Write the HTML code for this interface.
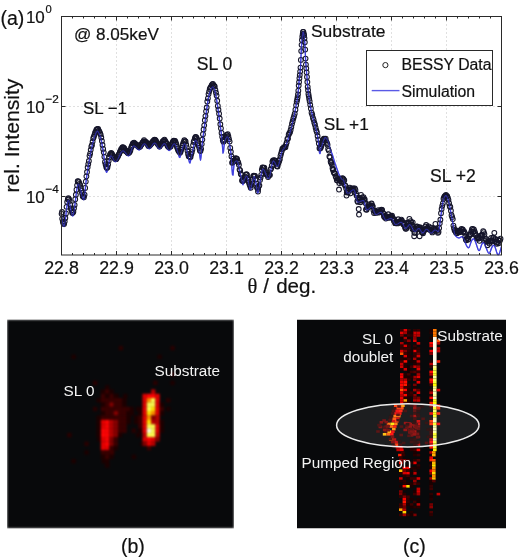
<!DOCTYPE html>
<html><head><meta charset="utf-8"><style>
html,body{margin:0;padding:0;background:#fff;}
body{width:520px;height:557px;overflow:hidden;}
svg{display:block;}
text{font-family:"Liberation Sans",Arial,Helvetica,sans-serif;}
.k text{stroke:#111;stroke-width:0.2px;}
</style></head><body>
<svg width="520" height="557" viewBox="0 0 520 557">
<rect width="520" height="557" fill="#fff"/>
<g stroke="#c0c0c0" stroke-width="1" stroke-dasharray="1 3" fill="none"><line x1="116.5" y1="16.5" x2="116.5" y2="255"/><line x1="171.5" y1="16.5" x2="171.5" y2="255"/><line x1="226.5" y1="16.5" x2="226.5" y2="255"/><line x1="281.5" y1="16.5" x2="281.5" y2="255"/><line x1="336.5" y1="16.5" x2="336.5" y2="255"/><line x1="391.5" y1="16.5" x2="391.5" y2="255"/><line x1="446.5" y1="16.5" x2="446.5" y2="255"/><line x1="61.5" y1="106.5" x2="501.5" y2="106.5"/><line x1="61.5" y1="196.5" x2="501.5" y2="196.5"/></g>
<path d="M61.5 215 L62 219 L62.5 222.27 L63 224.7 L63.5 226.16 L64 226.51 L64.5 225.21 L65 222.42 L65.5 218.61 L66 214.24 L66.5 209.77 L67 205.67 L67.5 202.42 L68 200.47 L68.5 200.22 L69 201.21 L69.5 203.03 L70 205.41 L70.5 208.06 L71 210.72 L71.5 213.1 L72 214.92 L72.5 215.91 L73 215.74 L73.5 214.23 L74 211.63 L74.5 208.19 L75 204.21 L75.5 199.95 L76 195.7 L76.5 191.71 L77 188.28 L77.5 185.67 L78 184.16 L78.5 183.97 L79 184.62 L79.5 185.85 L80 187.53 L80.5 189.5 L81 191.63 L81.5 193.78 L82 195.79 L82.5 197.54 L83 198.87 L83.5 199.65 L84 199.53 L84.5 196.92 L85 192.39 L85.5 187.03 L86 181.92 L86.5 178 L87 174.56 L87.5 171.28 L88 168.13 L88.5 165.07 L89 162.06 L89.5 159.11 L90 156.26 L90.5 153.54 L91 151 L91.5 148.6 L92 146.3 L92.5 144.13 L93 142.13 L93.5 140.32 L94 138.59 L94.5 136.97 L95 135.51 L95.5 134.27 L96 133.17 L96.5 132.09 L97 131.3 L97.5 131.09 L98 131.61 L98.5 132.56 L99 133.59 L99.5 134.57 L100 135.71 L100.5 137.1 L101 138.99 L101.5 141.4 L102 144.14 L102.5 147.04 L103 150.14 L103.5 153.63 L104 157.21 L104.5 160.7 L105 164.64 L105.5 168.39 L106 170.96 L106.5 172.32 L107 171.78 L107.5 169.93 L108 167.54 L108.5 164.87 L109 162.06 L109.5 159.41 L110 157.25 L110.5 155.94 L111 155.73 L111.5 156.08 L112 156.72 L112.5 157.57 L113 158.52 L113.5 159.5 L114 160.4 L114.5 161.13 L115 161.61 L115.5 161.74 L116 161.55 L116.5 161.13 L117 160.5 L117.5 159.7 L118 158.78 L118.5 157.77 L119 156.71 L119.5 155.63 L120 154.57 L120.5 153.57 L121 152.67 L121.5 151.91 L122 151.32 L122.5 150.94 L123 150.81 L123.5 150.93 L124 151.25 L124.5 151.73 L125 152.33 L125.5 152.99 L126 153.67 L126.5 154.33 L127 154.93 L127.5 155.41 L128 155.73 L128.5 155.85 L129 155.61 L129.5 154.93 L130 153.92 L130.5 152.67 L131 151.3 L131.5 149.89 L132 148.56 L132.5 147.4 L133 146.51 L133.5 145.99 L134 145.91 L134.5 146.09 L135 146.41 L135.5 146.85 L136 147.36 L136.5 147.92 L137 148.47 L137.5 148.99 L138 149.42 L138.5 149.75 L139 149.92 L139.5 149.88 L140 149.55 L140.5 148.98 L141 148.24 L141.5 147.39 L142 146.5 L142.5 145.64 L143 144.87 L143.5 144.26 L144 143.88 L144.5 143.78 L145 144 L145.5 144.45 L146 145.08 L146.5 145.83 L147 146.61 L147.5 147.36 L148 148.02 L148.5 148.52 L149 148.78 L149.5 148.76 L150 148.47 L150.5 147.96 L151 147.29 L151.5 146.53 L152 145.72 L152.5 144.92 L153 144.18 L153.5 143.57 L154 143.14 L154.5 142.95 L155 143.06 L155.5 143.5 L156 144.17 L156.5 145 L157 145.91 L157.5 146.82 L158 147.65 L158.5 148.32 L159 148.76 L159.5 148.87 L160 148.67 L160.5 148.22 L161 147.6 L161.5 146.87 L162 146.08 L162.5 145.31 L163 144.61 L163.5 144.05 L164 143.7 L164.5 143.61 L165 143.91 L165.5 144.56 L166 145.46 L166.5 146.51 L167 147.61 L167.5 148.66 L168 149.56 L168.5 150.21 L169 150.52 L169.5 150.42 L170 150.01 L170.5 149.36 L171 148.54 L171.5 147.62 L172 146.66 L172.5 145.73 L173 144.91 L173.5 144.27 L174 143.86 L174.5 143.76 L175 144.17 L175.5 145.08 L176 146.35 L176.5 147.88 L177 149.54 L177.5 151.21 L178 152.8 L178.5 154.32 L179 156.03 L179.5 157.49 L180 157.27 L180.5 155.54 L181 153.71 L181.5 151.99 L182 150.18 L182.5 148.34 L183 146.6 L183.5 145.13 L184 144.08 L184.5 143.59 L185 143.87 L185.5 144.94 L186 146.63 L186.5 148.77 L187 151.15 L187.5 153.61 L188 155.98 L188.5 158.2 L189 160.52 L189.5 162.7 L190 162.97 L190.5 161.08 L191 158.82 L191.5 156.72 L192 154.45 L192.5 151.98 L193 149.42 L193.5 146.92 L194 144.62 L194.5 142.67 L195 141.19 L195.5 140.35 L196 140.27 L196.5 141.04 L197 142.47 L197.5 144.37 L198 146.53 L198.5 148.76 L199 150.94 L199.5 153.47 L200 157.18 L200.5 160.11 L201 157.12 L201.5 150.89 L202 146.04 L202.5 141.75 L203 137.55 L203.5 133.64 L204 129.87 L204.5 126.12 L205 122.38 L205.5 118.57 L206 114.7 L206.5 110.92 L207 107.38 L207.5 103.82 L208 100.37 L208.5 97.36 L209 95.11 L209.5 93.35 L210 91.84 L210.5 90.55 L211 89.47 L211.5 88.51 L212 87.59 L212.5 86.94 L213 86.85 L213.5 87.39 L214 88.34 L214.5 89.47 L215 91.23 L215.5 93.63 L216 96.38 L216.5 99.17 L217 102.19 L217.5 105.5 L218 108.98 L218.5 112.5 L219 116.13 L219.5 119.91 L220 123.71 L220.5 127.4 L221 131.14 L221.5 135.21 L222 140.37 L222.5 147.3 L223 153.14 L223.5 151.65 L224 146.56 L224.5 142.86 L225 140.95 L225.5 139.63 L226 138.47 L226.5 137.5 L227 136.86 L227.5 136.7 L228 137.39 L228.5 138.94 L229 141.18 L229.5 143.91 L230 146.95 L230.5 150.12 L231 153.77 L231.5 160.54 L232 168.89 L232.5 174.64 L233 175.11 L233.5 169.89 L234 164.92 L234.5 162.74 L235 161.94 L235.5 161.47 L236 161.11 L236.5 160.9 L237 160.92 L237.5 161.61 L238 162.96 L238.5 164.82 L239 167.05 L239.5 169.52 L240 172.08 L240.5 174.61 L241 176.96 L241.5 179.12 L242 181.39 L242.5 183.85 L243 184.71 L243.5 183.09 L244 181.05 L244.5 179.63 L245 178.45 L245.5 177.39 L246 176.54 L246.5 176.07 L247 176.28 L247.5 177.63 L248 179.78 L248.5 182.34 L249 185.02 L249.5 187.77 L250 189.86 L250.5 189.66 L251 187.74 L251.5 185.62 L252 183.6 L252.5 181.56 L253 179.62 L253.5 178.01 L254 176.95 L254.5 176.69 L255 177.92 L255.5 180.43 L256 183.63 L256.5 187.06 L257 190.47 L257.5 192.95 L258 192.76 L258.5 190.6 L259 188.02 L259.5 185.31 L260 182.33 L260.5 179.22 L261 176.16 L261.5 173.4 L262 171.15 L262.5 169.64 L263 169.08 L263.5 169.29 L264 169.87 L264.5 170.74 L265 171.83 L265.5 173.04 L266 174.31 L266.5 175.54 L267 176.65 L267.5 177.57 L268 178.22 L268.5 178.51 L269 178.15 L269.5 176.83 L270 174.78 L270.5 172.26 L271 169.5 L271.5 166.78 L272 164.32 L272.5 162.4 L273 161.25 L273.5 161.08 L274 161.42 L274.5 162.05 L275 162.88 L275.5 163.8 L276 164.71 L276.5 165.51 L277 166.09 L277.5 166.36 L278 166.1 L278.5 165.13 L279 163.6 L279.5 161.67 L280 159.48 L280.5 157.2 L281 154.98 L281.5 152.98 L282 151.35 L282.5 150.25 L283 149.59 L283.5 149.08 L284 148.6 L284.5 147.99 L285 147.2 L285.5 146.27 L286 145.22 L286.5 144.04 L287 142.62 L287.5 141.03 L288 139.35 L288.5 137.68 L289 136.06 L289.5 134.45 L290 132.79 L290.5 131.04 L291 129.15 L291.5 127.08 L292 124.89 L292.5 122.66 L293 120.46 L293.5 118.38 L294 116.34 L294.5 114.2 L295 111.87 L295.5 109.16 L296 106.18 L296.5 103.2 L297 100.58 L297.5 97.95 L298 94.5 L298.5 88.47 L299 82.37 L299.5 77.05 L300 72.95 L300.5 67.4 L301 56 L301.5 46 L302 39.75 L302.5 35.34 L303 31.92 L303.5 32.16 L304 35.13 L304.5 38.78 L305 45.53 L305.5 57.88 L306 65.48 L306.5 71.25 L307 77.49 L307.5 84.07 L308 90.2 L308.5 94.13 L309 97.27 L309.5 100.3 L310 103.56 L310.5 106.7 L311 109.39 L311.5 111.67 L312 113.71 L312.5 115.65 L313 117.63 L313.5 119.65 L314 121.65 L314.5 123.64 L315 125.64 L315.5 127.62 L316 129.51 L316.5 131.42 L317 133.49 L317.5 135.88 L318 138.87 L318.5 142.38 L319 147.36 L319.5 152.89 L320 153.55 L320.5 151.09 L321 148.66 L321.5 146.98 L322 145.46 L322.5 143.83 L323 142.11 L323.5 140.46 L324 139.05 L324.5 138.02 L325 137.52 L325.5 137.52 L326 137.95 L326.5 138.63 L327 139.39 L327.5 140.19 L328 140.99 L328.5 142.36 L329 144.36 L329.5 146.57 L330 148.57 L330.5 150.1 L331 151.34 L331.5 152.52 L332 153.74 L332.5 155.09 L333 156.65 L333.5 158.34 L334 160.06 L334.5 161.76 L335 163.36 L335.5 164.83 L336 166.22 L336.5 167.59 L337 168.96 L337.5 170.31 L338 171.72 L338.5 173.18 L339 174.44 L339.5 175.32 L340 176.25 L340.5 177.24 L341 178.18 L341.5 178.93 L342 179.37 L342.5 179.63 L343 179.93 L343.5 180.38 L344 181.57 L344.5 183.42 L345 185.64 L345.5 187.98 L346 190.15 L346.5 191.91 L347 193.01 L347.5 193.27 L348 193.23 L348.5 193.07 L349 192.82 L349.5 192.48 L350 192.08 L350.5 191.64 L351 191.21 L351.5 190.79 L352 190.41 L352.5 190.1 L353 189.86 L353.5 189.72 L354 189.78 L354.5 190.65 L355 192.24 L355.5 194.29 L356 196.52 L356.5 198.68 L357 200.48 L357.5 201.67 L358 202 L358.5 201.95 L359 201.85 L359.5 201.7 L360 201.53 L360.5 201.33 L361 201.13 L361.5 200.94 L362 200.77 L362.5 200.63 L363 200.53 L363.5 200.5 L364 201.09 L364.5 202.59 L365 204.6 L365.5 206.74 L366 208.6 L366.5 209.78 L367 209.99 L367.5 209.84 L368 209.57 L368.5 209.2 L369 208.77 L369.5 208.31 L370 207.87 L370.5 207.47 L371 207.16 L371.5 206.95 L372 206.91 L372.5 207.38 L373 208.37 L373.5 209.69 L374 211.14 L374.5 212.53 L375 213.67 L375.5 214.37 L376 214.49 L376.5 214.4 L377 214.22 L377.5 213.98 L378 213.7 L378.5 213.4 L379 213.1 L379.5 212.82 L380 212.58 L380.5 212.4 L381 212.31 L381.5 212.39 L382 212.92 L382.5 213.8 L383 214.91 L383.5 216.15 L384 217.39 L384.5 218.5 L385 219.38 L385.5 219.91 L386 219.99 L386.5 219.93 L387 219.8 L387.5 219.62 L388 219.42 L388.5 219.2 L389 218.98 L389.5 218.78 L390 218.6 L390.5 218.47 L391 218.41 L391.5 218.48 L392 218.9 L392.5 219.61 L393 220.51 L393.5 221.5 L394 222.49 L394.5 223.39 L395 224.1 L395.5 224.52 L396 224.59 L396.5 224.49 L397 224.31 L397.5 224.06 L398 223.77 L398.5 223.45 L399 223.13 L399.5 222.84 L400 222.59 L400.5 222.41 L401 222.31 L401.5 222.37 L402 222.79 L402.5 223.49 L403 224.37 L403.5 225.35 L404 226.33 L404.5 227.21 L405 227.91 L405.5 228.33 L406 228.37 L406.5 228.06 L407 227.5 L407.5 226.8 L408 226.05 L408.5 225.37 L409 224.85 L409.5 224.61 L410 224.71 L410.5 225.11 L411 225.75 L411.5 226.56 L412 227.48 L412.5 228.43 L413 229.36 L413.5 230.2 L414 230.88 L414.5 231.33 L415 231.5 L415.5 231.35 L416 230.97 L416.5 230.43 L417 229.83 L417.5 229.24 L418 228.75 L418.5 228.45 L419 228.44 L419.5 228.79 L420 229.44 L420.5 230.26 L421 231.14 L421.5 231.96 L422 232.61 L422.5 232.96 L423 232.93 L423.5 232.57 L424 231.97 L424.5 231.25 L425 230.51 L425.5 229.85 L426 229.38 L426.5 229.2 L427 229.32 L427.5 229.64 L428 230.11 L428.5 230.68 L429 231.28 L429.5 231.87 L430 232.38 L430.5 232.77 L431 232.98 L431.5 232.95 L432 232.66 L432.5 232.19 L433 231.62 L433.5 231.03 L434 230.51 L434.5 230.14 L435 230 L435.5 230.08 L436 230.28 L436.5 230.56 L437 230.87 L437.5 231.17 L438 231.39 L438.5 231.5 L439 230.09 L439.5 226.26 L440 222.77 L440.5 219.17 L441 215.43 L441.5 211.35 L442 207.46 L442.5 204.4 L443 201.68 L443.5 199.64 L444 198.3 L444.5 197.11 L445 196.17 L445.5 195.61 L446 195.54 L446.5 196.01 L447 196.85 L447.5 197.92 L448 199.13 L448.5 200.88 L449 203.04 L449.5 205.31 L450 207.81 L450.5 210.52 L451 213.22 L451.5 215.89 L452 218.57 L452.5 221.27 L453 224.19 L453.5 227.49 L454 230.7 L454.5 233.33 L455 234.89 L455.5 235.68 L456 236.27 L456.5 236.72 L457 237.11 L457.5 237.43 L458 237.69 L458.5 237.88 L459 237.94 L459.5 237.81 L460 237.58 L460.5 237.29 L461 237 L461.5 236.78 L462 236.69 L462.5 236.8 L463 237.32 L463.5 238.19 L464 239.31 L464.5 240.59 L465 241.93 L465.5 243.24 L466 244.46 L466.5 245.55 L467 246.46 L467.5 247.13 L468 247.63 L468.5 247.78 L469 247.42 L469.5 246.49 L470 245.13 L470.5 243.61 L471 242.17 L471.5 240.97 L472 240.05 L472.5 239.39 L473 238.98 L473.5 238.82 L474 239.01 L474.5 239.66 L475 240.66 L475.5 241.92 L476 243.33 L476.5 244.82 L477 246.34 L477.5 247.84 L478 249.19 L478.5 250.18 L479 250.6 L479.5 250.38 L480 249.5 L480.5 248.12 L481 246.55 L481.5 245.08 L482 243.89 L482.5 243.05 L483 242.6 L483.5 242.55 L484 242.96 L484.5 243.76 L485 244.82 L485.5 246.05 L486 247.36 L486.5 248.7 L487 250 L487.5 251.23 L488 252.29 L488.5 253 L489 253.32 L489.5 253.09 L490 252.27 L490.5 251 L491 249.55 L491.5 248.18 L492 247.05 L492.5 246.2 L493 245.63 L493.5 245.32 L494 245.32 L494.5 245.92 L495 247 L495.5 248.41 L496 250.01 L496.5 251.65 L497 253.15 L497.5 254.2 L498 254.71 L498.5 254.72 L499 254.12 L499.5 252.98 L500 251.5 L500.5 249.87 L501 248.18 L501.5 246.39" fill="none" stroke="#4646e0" stroke-width="1.3" stroke-linejoin="round"/>
<g fill="none" stroke="#15152a" stroke-width="1.05"><circle cx="61.6" cy="213.85" r="2.4"/><circle cx="62.22" cy="218.7" r="2.4"/><circle cx="62.84" cy="221.84" r="2.4"/><circle cx="63.46" cy="223.52" r="2.4"/><circle cx="64.08" cy="224.1" r="2.4"/><circle cx="64.7" cy="221.61" r="2.4"/><circle cx="65.32" cy="218.04" r="2.4"/><circle cx="65.94" cy="213.48" r="2.4"/><circle cx="66.56" cy="206.87" r="2.4"/><circle cx="67.18" cy="201.92" r="2.4"/><circle cx="67.8" cy="199.23" r="2.4"/><circle cx="68.42" cy="198.24" r="2.4"/><circle cx="69.04" cy="199.25" r="2.4"/><circle cx="69.66" cy="201.06" r="2.4"/><circle cx="70.28" cy="204.7" r="2.4"/><circle cx="70.9" cy="208.43" r="2.4"/><circle cx="71.52" cy="210.24" r="2.4"/><circle cx="72.14" cy="212.84" r="2.4"/><circle cx="72.76" cy="212.71" r="2.4"/><circle cx="73.38" cy="211.76" r="2.4"/><circle cx="74" cy="208.37" r="2.4"/><circle cx="74.62" cy="204.91" r="2.4"/><circle cx="75.24" cy="199.23" r="2.4"/><circle cx="75.86" cy="194.76" r="2.4"/><circle cx="76.48" cy="189.68" r="2.4"/><circle cx="77.1" cy="185.3" r="2.4"/><circle cx="77.72" cy="181.18" r="2.4"/><circle cx="78.34" cy="181.31" r="2.4"/><circle cx="78.96" cy="182.2" r="2.4"/><circle cx="79.58" cy="183.83" r="2.4"/><circle cx="80.2" cy="185.12" r="2.4"/><circle cx="80.82" cy="188.25" r="2.4"/><circle cx="81.44" cy="190.64" r="2.4"/><circle cx="82.06" cy="193.22" r="2.4"/><circle cx="82.68" cy="196.27" r="2.4"/><circle cx="83.3" cy="196.6" r="2.4"/><circle cx="83.92" cy="197.29" r="2.4"/><circle cx="84.54" cy="194.68" r="2.4"/><circle cx="85.16" cy="187.99" r="2.4"/><circle cx="85.78" cy="181.58" r="2.4"/><circle cx="86.4" cy="176.34" r="2.4"/><circle cx="87.02" cy="172.02" r="2.4"/><circle cx="87.64" cy="167.3" r="2.4"/><circle cx="88.26" cy="164.11" r="2.4"/><circle cx="88.88" cy="161.02" r="2.4"/><circle cx="89.5" cy="155.84" r="2.4"/><circle cx="90.12" cy="153.55" r="2.4"/><circle cx="90.74" cy="149.86" r="2.4"/><circle cx="91.36" cy="146.43" r="2.4"/><circle cx="91.98" cy="144.89" r="2.4"/><circle cx="92.6" cy="141.59" r="2.4"/><circle cx="93.22" cy="138.18" r="2.4"/><circle cx="93.84" cy="136.64" r="2.4"/><circle cx="94.46" cy="134.84" r="2.4"/><circle cx="95.08" cy="132.65" r="2.4"/><circle cx="95.7" cy="131.62" r="2.4"/><circle cx="96.32" cy="129.86" r="2.4"/><circle cx="96.94" cy="129.11" r="2.4"/><circle cx="97.56" cy="129.19" r="2.4"/><circle cx="98.18" cy="129.04" r="2.4"/><circle cx="98.8" cy="130.69" r="2.4"/><circle cx="99.42" cy="131.62" r="2.4"/><circle cx="100.04" cy="133.26" r="2.4"/><circle cx="100.66" cy="134.56" r="2.4"/><circle cx="101.28" cy="137.44" r="2.4"/><circle cx="101.9" cy="140.88" r="2.4"/><circle cx="102.52" cy="144.9" r="2.4"/><circle cx="103.14" cy="148.92" r="2.4"/><circle cx="103.76" cy="152.33" r="2.4"/><circle cx="104.38" cy="156.82" r="2.4"/><circle cx="105" cy="161.89" r="2.4"/><circle cx="105.62" cy="164.41" r="2.4"/><circle cx="106.24" cy="166.99" r="2.4"/><circle cx="106.86" cy="167.95" r="2.4"/><circle cx="107.48" cy="167.36" r="2.4"/><circle cx="108.1" cy="164.56" r="2.4"/><circle cx="108.72" cy="160.82" r="2.4"/><circle cx="109.34" cy="157.39" r="2.4"/><circle cx="109.96" cy="154.6" r="2.4"/><circle cx="110.58" cy="153.75" r="2.4"/><circle cx="111.2" cy="152.95" r="2.4"/><circle cx="111.82" cy="153.63" r="2.4"/><circle cx="112.44" cy="154.89" r="2.4"/><circle cx="113.06" cy="155.87" r="2.4"/><circle cx="113.68" cy="157.03" r="2.4"/><circle cx="114.3" cy="157.68" r="2.4"/><circle cx="114.92" cy="158.81" r="2.4"/><circle cx="115.54" cy="158.81" r="2.4"/><circle cx="116.16" cy="159.17" r="2.4"/><circle cx="116.78" cy="158.31" r="2.4"/><circle cx="117.4" cy="157.11" r="2.4"/><circle cx="118.02" cy="156.26" r="2.4"/><circle cx="118.64" cy="154.57" r="2.4"/><circle cx="119.26" cy="153.81" r="2.4"/><circle cx="119.88" cy="152.04" r="2.4"/><circle cx="120.5" cy="151.03" r="2.4"/><circle cx="121.12" cy="149.15" r="2.4"/><circle cx="121.74" cy="148.95" r="2.4"/><circle cx="122.36" cy="147.52" r="2.4"/><circle cx="122.98" cy="147.15" r="2.4"/><circle cx="123.6" cy="148.04" r="2.4"/><circle cx="124.22" cy="148.25" r="2.4"/><circle cx="124.84" cy="149.37" r="2.4"/><circle cx="125.46" cy="151.05" r="2.4"/><circle cx="126.08" cy="150.6" r="2.4"/><circle cx="126.7" cy="151.48" r="2.4"/><circle cx="127.32" cy="152.49" r="2.4"/><circle cx="127.94" cy="153.06" r="2.4"/><circle cx="128.56" cy="152.92" r="2.4"/><circle cx="129.18" cy="152.46" r="2.4"/><circle cx="129.8" cy="151.79" r="2.4"/><circle cx="130.42" cy="150.23" r="2.4"/><circle cx="131.04" cy="147.87" r="2.4"/><circle cx="131.66" cy="146.54" r="2.4"/><circle cx="132.28" cy="145.01" r="2.4"/><circle cx="132.9" cy="143.32" r="2.4"/><circle cx="133.52" cy="143.19" r="2.4"/><circle cx="134.14" cy="142.68" r="2.4"/><circle cx="134.76" cy="143.75" r="2.4"/><circle cx="135.38" cy="143.91" r="2.4"/><circle cx="136" cy="144.49" r="2.4"/><circle cx="136.62" cy="144.88" r="2.4"/><circle cx="137.24" cy="145.75" r="2.4"/><circle cx="137.86" cy="145.53" r="2.4"/><circle cx="138.48" cy="146.32" r="2.4"/><circle cx="139.1" cy="147.15" r="2.4"/><circle cx="139.72" cy="145.91" r="2.4"/><circle cx="140.34" cy="146.6" r="2.4"/><circle cx="140.96" cy="144.6" r="2.4"/><circle cx="141.58" cy="144.62" r="2.4"/><circle cx="142.2" cy="142.82" r="2.4"/><circle cx="142.82" cy="142.51" r="2.4"/><circle cx="143.44" cy="141.41" r="2.4"/><circle cx="144.06" cy="140.21" r="2.4"/><circle cx="144.68" cy="141.39" r="2.4"/><circle cx="145.3" cy="141.89" r="2.4"/><circle cx="145.92" cy="141.96" r="2.4"/><circle cx="146.54" cy="142.78" r="2.4"/><circle cx="147.16" cy="143.79" r="2.4"/><circle cx="147.78" cy="144.32" r="2.4"/><circle cx="148.4" cy="145.91" r="2.4"/><circle cx="149.02" cy="145.54" r="2.4"/><circle cx="149.64" cy="145.67" r="2.4"/><circle cx="150.26" cy="144.86" r="2.4"/><circle cx="150.88" cy="144.17" r="2.4"/><circle cx="151.5" cy="142.94" r="2.4"/><circle cx="152.12" cy="143.04" r="2.4"/><circle cx="152.74" cy="141.45" r="2.4"/><circle cx="153.36" cy="141.12" r="2.4"/><circle cx="153.98" cy="140.12" r="2.4"/><circle cx="154.6" cy="139.59" r="2.4"/><circle cx="155.22" cy="140.03" r="2.4"/><circle cx="155.84" cy="140.63" r="2.4"/><circle cx="156.46" cy="141.87" r="2.4"/><circle cx="157.08" cy="142.83" r="2.4"/><circle cx="157.7" cy="143.97" r="2.4"/><circle cx="158.32" cy="144.42" r="2.4"/><circle cx="158.94" cy="145.29" r="2.4"/><circle cx="159.56" cy="146.52" r="2.4"/><circle cx="160.18" cy="145.15" r="2.4"/><circle cx="160.8" cy="144.31" r="2.4"/><circle cx="161.42" cy="144.05" r="2.4"/><circle cx="162.04" cy="143.56" r="2.4"/><circle cx="162.66" cy="141.33" r="2.4"/><circle cx="163.28" cy="141.08" r="2.4"/><circle cx="163.9" cy="140.36" r="2.4"/><circle cx="164.52" cy="139.72" r="2.4"/><circle cx="165.14" cy="141.29" r="2.4"/><circle cx="165.76" cy="141.89" r="2.4"/><circle cx="166.38" cy="143.17" r="2.4"/><circle cx="167" cy="144.16" r="2.4"/><circle cx="167.62" cy="145.98" r="2.4"/><circle cx="168.24" cy="146.55" r="2.4"/><circle cx="168.86" cy="147.28" r="2.4"/><circle cx="169.48" cy="146.8" r="2.4"/><circle cx="170.1" cy="146.21" r="2.4"/><circle cx="170.72" cy="146.49" r="2.4"/><circle cx="171.34" cy="144.55" r="2.4"/><circle cx="171.96" cy="143.73" r="2.4"/><circle cx="172.58" cy="142.44" r="2.4"/><circle cx="173.2" cy="141.29" r="2.4"/><circle cx="173.82" cy="140.59" r="2.4"/><circle cx="174.44" cy="140.89" r="2.4"/><circle cx="175.06" cy="140.97" r="2.4"/><circle cx="175.68" cy="142.28" r="2.4"/><circle cx="176.3" cy="144.1" r="2.4"/><circle cx="176.92" cy="146.65" r="2.4"/><circle cx="177.54" cy="148.49" r="2.4"/><circle cx="178.16" cy="150.25" r="2.4"/><circle cx="178.78" cy="151.29" r="2.4"/><circle cx="179.4" cy="151.75" r="2.4"/><circle cx="180.02" cy="152.79" r="2.4"/><circle cx="180.64" cy="151.78" r="2.4"/><circle cx="181.26" cy="149.54" r="2.4"/><circle cx="181.88" cy="147.7" r="2.4"/><circle cx="182.5" cy="145.53" r="2.4"/><circle cx="183.12" cy="143.43" r="2.4"/><circle cx="183.74" cy="141.82" r="2.4"/><circle cx="184.36" cy="140.27" r="2.4"/><circle cx="184.98" cy="141.37" r="2.4"/><circle cx="185.6" cy="141.47" r="2.4"/><circle cx="186.22" cy="144.75" r="2.4"/><circle cx="186.84" cy="147.42" r="2.4"/><circle cx="187.46" cy="150.64" r="2.4"/><circle cx="188.08" cy="154.01" r="2.4"/><circle cx="188.7" cy="156.22" r="2.4"/><circle cx="189.32" cy="156.55" r="2.4"/><circle cx="189.94" cy="156.67" r="2.4"/><circle cx="190.56" cy="156.98" r="2.4"/><circle cx="191.18" cy="154.27" r="2.4"/><circle cx="191.8" cy="152.18" r="2.4"/><circle cx="192.42" cy="149.58" r="2.4"/><circle cx="193.04" cy="145.25" r="2.4"/><circle cx="193.66" cy="141.96" r="2.4"/><circle cx="194.28" cy="140.4" r="2.4"/><circle cx="194.9" cy="138.27" r="2.4"/><circle cx="195.52" cy="137.01" r="2.4"/><circle cx="196.14" cy="137.23" r="2.4"/><circle cx="196.76" cy="138.1" r="2.4"/><circle cx="197.38" cy="139.96" r="2.4"/><circle cx="198" cy="143.25" r="2.4"/><circle cx="198.62" cy="145.61" r="2.4"/><circle cx="199.24" cy="147.74" r="2.4"/><circle cx="199.86" cy="150.53" r="2.4"/><circle cx="200.48" cy="150.97" r="2.4"/><circle cx="201.1" cy="148.81" r="2.4"/><circle cx="201.72" cy="144.12" r="2.4"/><circle cx="202.34" cy="139.55" r="2.4"/><circle cx="202.96" cy="134.23" r="2.4"/><circle cx="203.58" cy="129.45" r="2.4"/><circle cx="204.2" cy="125.31" r="2.4"/><circle cx="204.82" cy="120.22" r="2.4"/><circle cx="205.44" cy="116.09" r="2.4"/><circle cx="206.06" cy="111.3" r="2.4"/><circle cx="206.68" cy="107.52" r="2.4"/><circle cx="207.3" cy="101.52" r="2.4"/><circle cx="207.92" cy="98.3" r="2.4"/><circle cx="208.54" cy="94.09" r="2.4"/><circle cx="209.16" cy="91.53" r="2.4"/><circle cx="209.78" cy="88.82" r="2.4"/><circle cx="210.4" cy="87.65" r="2.4"/><circle cx="211.02" cy="86.9" r="2.4"/><circle cx="211.64" cy="85.34" r="2.4"/><circle cx="212.26" cy="84.41" r="2.4"/><circle cx="212.88" cy="83.87" r="2.4"/><circle cx="213.5" cy="85.18" r="2.4"/><circle cx="214.12" cy="85.85" r="2.4"/><circle cx="214.74" cy="86.43" r="2.4"/><circle cx="215.36" cy="89.9" r="2.4"/><circle cx="215.98" cy="92.66" r="2.4"/><circle cx="216.6" cy="95.55" r="2.4"/><circle cx="217.22" cy="100.79" r="2.4"/><circle cx="217.84" cy="105.97" r="2.4"/><circle cx="218.46" cy="109.74" r="2.4"/><circle cx="219.08" cy="113.68" r="2.4"/><circle cx="219.7" cy="118.54" r="2.4"/><circle cx="220.32" cy="124.25" r="2.4"/><circle cx="220.94" cy="128.35" r="2.4"/><circle cx="221.56" cy="132.9" r="2.4"/><circle cx="222.18" cy="136.83" r="2.4"/><circle cx="222.8" cy="140.24" r="2.4"/><circle cx="223.42" cy="141.65" r="2.4"/><circle cx="224.04" cy="140.88" r="2.4"/><circle cx="224.66" cy="139.54" r="2.4"/><circle cx="225.28" cy="137.48" r="2.4"/><circle cx="225.9" cy="136.81" r="2.4"/><circle cx="226.52" cy="135.02" r="2.4"/><circle cx="227.14" cy="135.22" r="2.4"/><circle cx="227.76" cy="134.24" r="2.4"/><circle cx="228.38" cy="136.38" r="2.4"/><circle cx="229" cy="139.15" r="2.4"/><circle cx="229.62" cy="141.62" r="2.4"/><circle cx="230.24" cy="147.9" r="2.4"/><circle cx="230.86" cy="151.76" r="2.4"/><circle cx="231.48" cy="156.38" r="2.4"/><circle cx="232.1" cy="162.72" r="2.4"/><circle cx="232.72" cy="162.31" r="2.4"/><circle cx="233.34" cy="158.66" r="2.4"/><circle cx="233.96" cy="161.29" r="2.4"/><circle cx="234.58" cy="160.35" r="2.4"/><circle cx="235.2" cy="159.93" r="2.4"/><circle cx="235.82" cy="158.17" r="2.4"/><circle cx="236.44" cy="158.76" r="2.4"/><circle cx="237.06" cy="158.92" r="2.4"/><circle cx="237.68" cy="161.49" r="2.4"/><circle cx="238.3" cy="162.55" r="2.4"/><circle cx="238.92" cy="164.84" r="2.4"/><circle cx="239.54" cy="169.59" r="2.4"/><circle cx="240.16" cy="170.48" r="2.4"/><circle cx="240.78" cy="173.73" r="2.4"/><circle cx="241.4" cy="174.82" r="2.4"/><circle cx="242.02" cy="180.54" r="2.4"/><circle cx="242.64" cy="180.95" r="2.4"/><circle cx="243.26" cy="180.86" r="2.4"/><circle cx="243.88" cy="179.79" r="2.4"/><circle cx="244.5" cy="177.94" r="2.4"/><circle cx="245.12" cy="176.67" r="2.4"/><circle cx="245.74" cy="174.93" r="2.4"/><circle cx="246.36" cy="174.2" r="2.4"/><circle cx="246.98" cy="174.58" r="2.4"/><circle cx="247.6" cy="177.95" r="2.4"/><circle cx="248.22" cy="179.78" r="2.4"/><circle cx="248.84" cy="182.27" r="2.4"/><circle cx="249.46" cy="184.37" r="2.4"/><circle cx="250.08" cy="185.66" r="2.4"/><circle cx="250.7" cy="187.72" r="2.4"/><circle cx="251.32" cy="184.96" r="2.4"/><circle cx="251.94" cy="182.23" r="2.4"/><circle cx="252.56" cy="179.27" r="2.4"/><circle cx="253.18" cy="176.11" r="2.4"/><circle cx="253.8" cy="175.56" r="2.4"/><circle cx="254.42" cy="175.96" r="2.4"/><circle cx="255.04" cy="176" r="2.4"/><circle cx="255.66" cy="179.51" r="2.4"/><circle cx="256.28" cy="183.57" r="2.4"/><circle cx="256.9" cy="187.56" r="2.4"/><circle cx="257.52" cy="187.72" r="2.4"/><circle cx="258.14" cy="188.91" r="2.4"/><circle cx="258.76" cy="186.36" r="2.4"/><circle cx="259.38" cy="185.32" r="2.4"/><circle cx="260" cy="179.88" r="2.4"/><circle cx="260.62" cy="177.5" r="2.4"/><circle cx="261.24" cy="174.87" r="2.4"/><circle cx="261.86" cy="169.78" r="2.4"/><circle cx="262.48" cy="167.43" r="2.4"/><circle cx="263.1" cy="167.72" r="2.4"/><circle cx="263.72" cy="167.93" r="2.4"/><circle cx="264.34" cy="167.78" r="2.4"/><circle cx="264.96" cy="170.68" r="2.4"/><circle cx="265.58" cy="173.91" r="2.4"/><circle cx="266.2" cy="172.98" r="2.4"/><circle cx="266.82" cy="174.51" r="2.4"/><circle cx="267.44" cy="174.8" r="2.4"/><circle cx="268.06" cy="177.1" r="2.4"/><circle cx="268.68" cy="175.61" r="2.4"/><circle cx="269.3" cy="174.74" r="2.4"/><circle cx="269.92" cy="175.06" r="2.4"/><circle cx="270.54" cy="169.56" r="2.4"/><circle cx="271.16" cy="168.33" r="2.4"/><circle cx="271.78" cy="165.56" r="2.4"/><circle cx="272.4" cy="161.55" r="2.4"/><circle cx="273.02" cy="160.39" r="2.4"/><circle cx="273.64" cy="161.84" r="2.4"/><circle cx="274.26" cy="160.07" r="2.4"/><circle cx="274.88" cy="160.6" r="2.4"/><circle cx="275.5" cy="160.91" r="2.4"/><circle cx="276.12" cy="163.57" r="2.4"/><circle cx="276.74" cy="166.07" r="2.4"/><circle cx="277.36" cy="166.01" r="2.4"/><circle cx="277.98" cy="163.73" r="2.4"/><circle cx="278.6" cy="162.58" r="2.4"/><circle cx="279.22" cy="160.91" r="2.4"/><circle cx="279.84" cy="159.2" r="2.4"/><circle cx="280.46" cy="155.85" r="2.4"/><circle cx="281.08" cy="153.59" r="2.4"/><circle cx="281.7" cy="151.33" r="2.4"/><circle cx="282.32" cy="148.99" r="2.4"/><circle cx="282.94" cy="148.38" r="2.4"/><circle cx="283.56" cy="148.04" r="2.4"/><circle cx="284.18" cy="147.1" r="2.4"/><circle cx="284.81" cy="146.89" r="2.4"/><circle cx="285.44" cy="147.19" r="2.4"/><circle cx="286.08" cy="144.48" r="2.4"/><circle cx="286.72" cy="142.38" r="2.4"/><circle cx="287.36" cy="138.99" r="2.4"/><circle cx="288.01" cy="138.54" r="2.4"/><circle cx="288.66" cy="134.78" r="2.4"/><circle cx="289.32" cy="133.16" r="2.4"/><circle cx="289.98" cy="132.32" r="2.4"/><circle cx="290.64" cy="129.89" r="2.4"/><circle cx="291.31" cy="126.97" r="2.4"/><circle cx="291.99" cy="123.73" r="2.4"/><circle cx="292.66" cy="121.27" r="2.4"/><circle cx="293.34" cy="118.43" r="2.4"/><circle cx="294.03" cy="116.16" r="2.4"/><circle cx="294.72" cy="113.77" r="2.4"/><circle cx="295.42" cy="109.68" r="2.4"/><circle cx="296.12" cy="105.24" r="2.4"/><circle cx="296.71" cy="101.69" r="2.4"/><circle cx="297.21" cy="99.53" r="2.4"/><circle cx="297.62" cy="97.2" r="2.4"/><circle cx="297.98" cy="94.36" r="2.4"/><circle cx="298.34" cy="90.74" r="2.4"/><circle cx="298.7" cy="85.61" r="2.4"/><circle cx="299.06" cy="82.07" r="2.4"/><circle cx="299.42" cy="78.17" r="2.4"/><circle cx="299.78" cy="75.09" r="2.4"/><circle cx="300.14" cy="71.59" r="2.4"/><circle cx="300.5" cy="67.62" r="2.4"/><circle cx="300.86" cy="59.94" r="2.4"/><circle cx="301.22" cy="51.08" r="2.4"/><circle cx="301.58" cy="44.81" r="2.4"/><circle cx="301.94" cy="40.04" r="2.4"/><circle cx="302.3" cy="36.6" r="2.4"/><circle cx="302.66" cy="34.31" r="2.4"/><circle cx="303.02" cy="31.8" r="2.4"/><circle cx="303.38" cy="31.8" r="2.4"/><circle cx="303.74" cy="33.68" r="2.4"/><circle cx="304.1" cy="35.27" r="2.4"/><circle cx="304.46" cy="38.16" r="2.4"/><circle cx="304.82" cy="42.26" r="2.4"/><circle cx="305.18" cy="49.57" r="2.4"/><circle cx="305.54" cy="58.6" r="2.4"/><circle cx="305.9" cy="64.57" r="2.4"/><circle cx="306.26" cy="68.36" r="2.4"/><circle cx="306.62" cy="72.32" r="2.4"/><circle cx="306.98" cy="76.9" r="2.4"/><circle cx="307.34" cy="82.03" r="2.4"/><circle cx="307.7" cy="86.87" r="2.4"/><circle cx="308.06" cy="90.13" r="2.4"/><circle cx="308.42" cy="93.94" r="2.4"/><circle cx="308.78" cy="96.09" r="2.4"/><circle cx="309.18" cy="98.75" r="2.4"/><circle cx="309.66" cy="101.21" r="2.4"/><circle cx="310.22" cy="104.85" r="2.4"/><circle cx="310.87" cy="108.39" r="2.4"/><circle cx="311.56" cy="112.7" r="2.4"/><circle cx="312.25" cy="114.65" r="2.4"/><circle cx="312.94" cy="117.84" r="2.4"/><circle cx="313.62" cy="119.86" r="2.4"/><circle cx="314.29" cy="122.73" r="2.4"/><circle cx="314.96" cy="124.77" r="2.4"/><circle cx="315.62" cy="127.68" r="2.4"/><circle cx="316.28" cy="130.47" r="2.4"/><circle cx="316.93" cy="132.33" r="2.4"/><circle cx="317.58" cy="136.03" r="2.4"/><circle cx="318.22" cy="139.69" r="2.4"/><circle cx="318.85" cy="143.48" r="2.4"/><circle cx="319.48" cy="148.29" r="2.4"/><circle cx="320.11" cy="148.58" r="2.4"/><circle cx="320.73" cy="147.84" r="2.4"/><circle cx="321.35" cy="146.05" r="2.4"/><circle cx="321.97" cy="144.02" r="2.4"/><circle cx="322.59" cy="142.46" r="2.4"/><circle cx="323.21" cy="140.19" r="2.4"/><circle cx="323.83" cy="138.62" r="2.4"/><circle cx="324.45" cy="138.99" r="2.4"/><circle cx="325.07" cy="140.06" r="2.4"/><circle cx="325.69" cy="138.74" r="2.4"/><circle cx="326.31" cy="141.78" r="2.4"/><circle cx="326.93" cy="143.02" r="2.4"/><circle cx="327.55" cy="144.75" r="2.4"/><circle cx="328.17" cy="148.97" r="2.4"/><circle cx="328.79" cy="150.55" r="2.4"/><circle cx="329.41" cy="156.51" r="2.4"/><circle cx="330.03" cy="157.3" r="2.4"/><circle cx="330.65" cy="161.49" r="2.4"/><circle cx="331.27" cy="163.09" r="2.4"/><circle cx="331.89" cy="164.55" r="2.4"/><circle cx="332.51" cy="168.34" r="2.4"/><circle cx="333.13" cy="169.34" r="2.4"/><circle cx="333.75" cy="172.34" r="2.4"/><circle cx="334.37" cy="173.28" r="2.4"/><circle cx="334.99" cy="173.42" r="2.4"/><circle cx="335.61" cy="176.25" r="2.4"/><circle cx="336.23" cy="177.75" r="2.4"/><circle cx="336.85" cy="180.29" r="2.4"/><circle cx="337.47" cy="178.38" r="2.4"/><circle cx="338.09" cy="180.69" r="2.4"/><circle cx="338.71" cy="178.82" r="2.4"/><circle cx="339.33" cy="183.09" r="2.4"/><circle cx="339.95" cy="180.06" r="2.4"/><circle cx="340.57" cy="178.57" r="2.4"/><circle cx="341.19" cy="181.21" r="2.4"/><circle cx="341.81" cy="182.85" r="2.4"/><circle cx="342.43" cy="178.09" r="2.4"/><circle cx="343.05" cy="178.67" r="2.4"/><circle cx="343.67" cy="179.51" r="2.4"/><circle cx="344.29" cy="180.33" r="2.4"/><circle cx="344.91" cy="185.22" r="2.4"/><circle cx="345.53" cy="185.85" r="2.4"/><circle cx="346.15" cy="188.46" r="2.4"/><circle cx="346.77" cy="192.43" r="2.4"/><circle cx="347.39" cy="190.71" r="2.4"/><circle cx="348.01" cy="192.61" r="2.4"/><circle cx="348.63" cy="189.94" r="2.4"/><circle cx="349.25" cy="189.12" r="2.4"/><circle cx="349.87" cy="187.57" r="2.4"/><circle cx="350.49" cy="193.32" r="2.4"/><circle cx="351.11" cy="189.07" r="2.4"/><circle cx="351.73" cy="189.53" r="2.4"/><circle cx="352.35" cy="188.63" r="2.4"/><circle cx="352.97" cy="188.64" r="2.4"/><circle cx="353.59" cy="188.3" r="2.4"/><circle cx="354.21" cy="191.78" r="2.4"/><circle cx="354.83" cy="188.36" r="2.4"/><circle cx="355.45" cy="189.91" r="2.4"/><circle cx="356.07" cy="193.6" r="2.4"/><circle cx="356.69" cy="195.64" r="2.4"/><circle cx="357.31" cy="201.07" r="2.4"/><circle cx="357.93" cy="201.89" r="2.4"/><circle cx="358.55" cy="198.81" r="2.4"/><circle cx="359.17" cy="197.94" r="2.4"/><circle cx="359.79" cy="199.5" r="2.4"/><circle cx="360.41" cy="202.23" r="2.4"/><circle cx="361.03" cy="194.83" r="2.4"/><circle cx="361.65" cy="200.28" r="2.4"/><circle cx="362.27" cy="197.36" r="2.4"/><circle cx="362.89" cy="200.82" r="2.4"/><circle cx="363.51" cy="197.17" r="2.4"/><circle cx="364.13" cy="199.41" r="2.4"/><circle cx="364.75" cy="199.48" r="2.4"/><circle cx="365.37" cy="203.02" r="2.4"/><circle cx="365.99" cy="209.41" r="2.4"/><circle cx="366.61" cy="209.8" r="2.4"/><circle cx="367.23" cy="207.76" r="2.4"/><circle cx="367.85" cy="206.68" r="2.4"/><circle cx="368.47" cy="204.5" r="2.4"/><circle cx="369.09" cy="206.52" r="2.4"/><circle cx="369.71" cy="206.57" r="2.4"/><circle cx="370.33" cy="205.96" r="2.4"/><circle cx="370.95" cy="205.52" r="2.4"/><circle cx="371.57" cy="203.53" r="2.4"/><circle cx="372.19" cy="205.4" r="2.4"/><circle cx="372.81" cy="206.38" r="2.4"/><circle cx="373.43" cy="210.18" r="2.4"/><circle cx="374.05" cy="212.95" r="2.4"/><circle cx="374.67" cy="211.22" r="2.4"/><circle cx="375.29" cy="211.34" r="2.4"/><circle cx="375.91" cy="212.89" r="2.4"/><circle cx="376.53" cy="211.86" r="2.4"/><circle cx="377.15" cy="211.4" r="2.4"/><circle cx="377.77" cy="212.24" r="2.4"/><circle cx="378.39" cy="210.2" r="2.4"/><circle cx="379.01" cy="212.62" r="2.4"/><circle cx="379.63" cy="211.07" r="2.4"/><circle cx="380.25" cy="211.41" r="2.4"/><circle cx="380.87" cy="210.51" r="2.4"/><circle cx="381.49" cy="209.65" r="2.4"/><circle cx="382.11" cy="209.97" r="2.4"/><circle cx="382.73" cy="212.38" r="2.4"/><circle cx="383.35" cy="213.33" r="2.4"/><circle cx="383.97" cy="216.2" r="2.4"/><circle cx="384.59" cy="217.17" r="2.4"/><circle cx="385.21" cy="215.83" r="2.4"/><circle cx="385.83" cy="218.61" r="2.4"/><circle cx="386.45" cy="216.15" r="2.4"/><circle cx="387.07" cy="217.23" r="2.4"/><circle cx="387.69" cy="217.55" r="2.4"/><circle cx="388.31" cy="214.26" r="2.4"/><circle cx="388.93" cy="217.67" r="2.4"/><circle cx="389.55" cy="217.51" r="2.4"/><circle cx="390.17" cy="216.78" r="2.4"/><circle cx="390.79" cy="216.21" r="2.4"/><circle cx="391.41" cy="216.3" r="2.4"/><circle cx="392.03" cy="215.77" r="2.4"/><circle cx="392.65" cy="217.9" r="2.4"/><circle cx="393.27" cy="218.59" r="2.4"/><circle cx="393.89" cy="220.93" r="2.4"/><circle cx="394.51" cy="219.86" r="2.4"/><circle cx="395.13" cy="223.14" r="2.4"/><circle cx="395.75" cy="223.34" r="2.4"/><circle cx="396.37" cy="222.79" r="2.4"/><circle cx="396.99" cy="222.07" r="2.4"/><circle cx="397.61" cy="223.44" r="2.4"/><circle cx="398.23" cy="219.29" r="2.4"/><circle cx="398.85" cy="222.51" r="2.4"/><circle cx="399.47" cy="221.77" r="2.4"/><circle cx="400.09" cy="221.53" r="2.4"/><circle cx="400.71" cy="221.51" r="2.4"/><circle cx="401.33" cy="219.7" r="2.4"/><circle cx="401.95" cy="220.79" r="2.4"/><circle cx="402.57" cy="223.18" r="2.4"/><circle cx="403.19" cy="223.96" r="2.4"/><circle cx="403.81" cy="224.81" r="2.4"/><circle cx="404.43" cy="223.02" r="2.4"/><circle cx="405.05" cy="227.38" r="2.4"/><circle cx="405.67" cy="228.87" r="2.4"/><circle cx="406.29" cy="228.45" r="2.4"/><circle cx="406.91" cy="226.52" r="2.4"/><circle cx="407.53" cy="222.61" r="2.4"/><circle cx="408.15" cy="225.94" r="2.4"/><circle cx="408.77" cy="223.32" r="2.4"/><circle cx="409.39" cy="218.83" r="2.4"/><circle cx="410.01" cy="223.85" r="2.4"/><circle cx="410.63" cy="221.22" r="2.4"/><circle cx="411.25" cy="222.43" r="2.4"/><circle cx="411.87" cy="224.65" r="2.4"/><circle cx="412.49" cy="229.07" r="2.4"/><circle cx="413.11" cy="227.42" r="2.4"/><circle cx="413.73" cy="229.49" r="2.4"/><circle cx="414.35" cy="232.69" r="2.4"/><circle cx="414.97" cy="232.71" r="2.4"/><circle cx="415.59" cy="229.63" r="2.4"/><circle cx="416.21" cy="228.85" r="2.4"/><circle cx="416.83" cy="226.4" r="2.4"/><circle cx="417.45" cy="226.62" r="2.4"/><circle cx="418.07" cy="227.92" r="2.4"/><circle cx="418.69" cy="227.58" r="2.4"/><circle cx="419.31" cy="227.3" r="2.4"/><circle cx="419.93" cy="229.52" r="2.4"/><circle cx="420.55" cy="227.53" r="2.4"/><circle cx="421.17" cy="229.83" r="2.4"/><circle cx="421.79" cy="232.1" r="2.4"/><circle cx="422.41" cy="232.42" r="2.4"/><circle cx="423.03" cy="233.24" r="2.4"/><circle cx="423.65" cy="231.58" r="2.4"/><circle cx="424.27" cy="229.57" r="2.4"/><circle cx="424.89" cy="229.79" r="2.4"/><circle cx="425.51" cy="226.64" r="2.4"/><circle cx="426.13" cy="225.02" r="2.4"/><circle cx="426.75" cy="228.72" r="2.4"/><circle cx="427.37" cy="227.95" r="2.4"/><circle cx="427.99" cy="229.12" r="2.4"/><circle cx="428.61" cy="226.42" r="2.4"/><circle cx="429.23" cy="229.43" r="2.4"/><circle cx="429.85" cy="229.72" r="2.4"/><circle cx="430.47" cy="229.78" r="2.4"/><circle cx="431.09" cy="227.66" r="2.4"/><circle cx="431.71" cy="230.78" r="2.4"/><circle cx="432.33" cy="232.39" r="2.4"/><circle cx="432.95" cy="230.83" r="2.4"/><circle cx="433.57" cy="228.44" r="2.4"/><circle cx="434.19" cy="228.83" r="2.4"/><circle cx="434.81" cy="229.81" r="2.4"/><circle cx="435.43" cy="223.87" r="2.4"/><circle cx="436.05" cy="228.6" r="2.4"/><circle cx="436.67" cy="230.09" r="2.4"/><circle cx="437.29" cy="230.71" r="2.4"/><circle cx="437.91" cy="232.75" r="2.4"/><circle cx="438.53" cy="231.93" r="2.4"/><circle cx="439.15" cy="228.11" r="2.4"/><circle cx="439.77" cy="223.37" r="2.4"/><circle cx="440.39" cy="219.79" r="2.4"/><circle cx="441.01" cy="213.15" r="2.4"/><circle cx="441.63" cy="208.92" r="2.4"/><circle cx="442.25" cy="205.83" r="2.4"/><circle cx="442.87" cy="203.43" r="2.4"/><circle cx="443.49" cy="198.66" r="2.4"/><circle cx="444.11" cy="197.25" r="2.4"/><circle cx="444.73" cy="196.16" r="2.4"/><circle cx="445.35" cy="195.93" r="2.4"/><circle cx="445.97" cy="195.02" r="2.4"/><circle cx="446.59" cy="196.32" r="2.4"/><circle cx="447.21" cy="196.18" r="2.4"/><circle cx="447.83" cy="197.94" r="2.4"/><circle cx="448.45" cy="199.84" r="2.4"/><circle cx="449.07" cy="203.19" r="2.4"/><circle cx="449.69" cy="206.23" r="2.4"/><circle cx="450.31" cy="206.94" r="2.4"/><circle cx="450.93" cy="210.67" r="2.4"/><circle cx="451.55" cy="215.15" r="2.4"/><circle cx="452.17" cy="217.11" r="2.4"/><circle cx="452.79" cy="219.07" r="2.4"/><circle cx="453.41" cy="225.6" r="2.4"/><circle cx="454.03" cy="228.23" r="2.4"/><circle cx="454.65" cy="230.6" r="2.4"/><circle cx="455.27" cy="230.2" r="2.4"/><circle cx="455.89" cy="232.51" r="2.4"/><circle cx="456.51" cy="231.23" r="2.4"/><circle cx="457.13" cy="233.19" r="2.4"/><circle cx="457.75" cy="230.75" r="2.4"/><circle cx="458.37" cy="230.88" r="2.4"/><circle cx="458.99" cy="232.17" r="2.4"/><circle cx="459.61" cy="230.62" r="2.4"/><circle cx="460.23" cy="231.95" r="2.4"/><circle cx="460.85" cy="230.87" r="2.4"/><circle cx="461.47" cy="228.82" r="2.4"/><circle cx="462.09" cy="229.92" r="2.4"/><circle cx="462.71" cy="229.47" r="2.4"/><circle cx="463.33" cy="231.99" r="2.4"/><circle cx="463.95" cy="231.05" r="2.4"/><circle cx="464.57" cy="232.78" r="2.4"/><circle cx="465.19" cy="236.64" r="2.4"/><circle cx="465.81" cy="239.51" r="2.4"/><circle cx="466.43" cy="240.24" r="2.4"/><circle cx="467.05" cy="237.97" r="2.4"/><circle cx="467.67" cy="238.11" r="2.4"/><circle cx="468.29" cy="239.6" r="2.4"/><circle cx="468.91" cy="236.43" r="2.4"/><circle cx="469.53" cy="234.25" r="2.4"/><circle cx="470.15" cy="234.86" r="2.4"/><circle cx="470.77" cy="234.31" r="2.4"/><circle cx="471.39" cy="231.35" r="2.4"/><circle cx="472.01" cy="229.21" r="2.4"/><circle cx="472.63" cy="228.84" r="2.4"/><circle cx="473.25" cy="231.7" r="2.4"/><circle cx="473.87" cy="229.49" r="2.4"/><circle cx="474.49" cy="231.15" r="2.4"/><circle cx="475.11" cy="232.94" r="2.4"/><circle cx="475.73" cy="235.16" r="2.4"/><circle cx="476.35" cy="235.32" r="2.4"/><circle cx="476.97" cy="238.24" r="2.4"/><circle cx="477.59" cy="237.24" r="2.4"/><circle cx="478.21" cy="238.82" r="2.4"/><circle cx="478.83" cy="237.74" r="2.4"/><circle cx="479.45" cy="240.8" r="2.4"/><circle cx="480.07" cy="238.03" r="2.4"/><circle cx="480.69" cy="235.79" r="2.4"/><circle cx="481.31" cy="235.34" r="2.4"/><circle cx="481.93" cy="234.56" r="2.4"/><circle cx="482.55" cy="235.37" r="2.4"/><circle cx="483.17" cy="231.07" r="2.4"/><circle cx="483.79" cy="232.23" r="2.4"/><circle cx="484.41" cy="234.21" r="2.4"/><circle cx="485.03" cy="240.57" r="2.4"/><circle cx="485.65" cy="239.32" r="2.4"/><circle cx="486.27" cy="238.98" r="2.4"/><circle cx="486.89" cy="241.82" r="2.4"/><circle cx="487.51" cy="245.24" r="2.4"/><circle cx="488.13" cy="241.57" r="2.4"/><circle cx="488.75" cy="241.18" r="2.4"/><circle cx="489.37" cy="243.57" r="2.4"/><circle cx="489.99" cy="241.54" r="2.4"/><circle cx="490.61" cy="240.98" r="2.4"/><circle cx="491.23" cy="237.86" r="2.4"/><circle cx="491.85" cy="241.48" r="2.4"/><circle cx="492.47" cy="240.32" r="2.4"/><circle cx="493.09" cy="237.62" r="2.4"/><circle cx="493.71" cy="237.6" r="2.4"/><circle cx="494.33" cy="232.81" r="2.4"/><circle cx="494.95" cy="239.05" r="2.4"/><circle cx="495.57" cy="239.05" r="2.4"/><circle cx="496.19" cy="241.91" r="2.4"/><circle cx="496.81" cy="243.71" r="2.4"/><circle cx="497.43" cy="242.32" r="2.4"/><circle cx="498.05" cy="239.6" r="2.4"/><circle cx="498.67" cy="243.35" r="2.4"/><circle cx="499.29" cy="240.57" r="2.4"/><circle cx="499.91" cy="240.51" r="2.4"/><circle cx="500.53" cy="238.73" r="2.4"/><circle cx="331.2" cy="162.3" r="2.4"/><circle cx="333" cy="170" r="2.4"/><circle cx="339" cy="189.5" r="2.4"/><circle cx="346.5" cy="195.6" r="2.4"/><circle cx="359" cy="214.5" r="2.4"/><circle cx="358.7" cy="209" r="2.4"/><circle cx="412.7" cy="222.3" r="2.4"/><circle cx="414.2" cy="236.2" r="2.4"/><circle cx="419.6" cy="236.2" r="2.4"/><circle cx="258" cy="191.5" r="2.4"/><circle cx="277.5" cy="166.5" r="2.4"/><circle cx="62" cy="212" r="2.4"/></g>
<g fill="none" stroke="#14142a" stroke-width="1"></g>
<path d="M61.5 215 L62 219 L62.5 222.27 L63 224.7 L63.5 226.16 L64 226.51 L64.5 225.21 L65 222.42 L65.5 218.61 L66 214.24 L66.5 209.77 L67 205.67 L67.5 202.42 L68 200.47 L68.5 200.22 L69 201.21 L69.5 203.03 L70 205.41 L70.5 208.06 L71 210.72 L71.5 213.1 L72 214.92 L72.5 215.91 L73 215.74 L73.5 214.23 L74 211.63 L74.5 208.19 L75 204.21 L75.5 199.95 L76 195.7 L76.5 191.71 L77 188.28 L77.5 185.67 L78 184.16 L78.5 183.97 L79 184.62 L79.5 185.85 L80 187.53 L80.5 189.5 L81 191.63 L81.5 193.78 L82 195.79 L82.5 197.54 L83 198.87 L83.5 199.65 L84 199.53 L84.5 196.92 L85 192.39 L85.5 187.03 L86 181.92 L86.5 178 L87 174.56 L87.5 171.28 L88 168.13 L88.5 165.07 L89 162.06 L89.5 159.11 L90 156.26 L90.5 153.54 L91 151 L91.5 148.6 L92 146.3 L92.5 144.13 L93 142.13 L93.5 140.32 L94 138.59 L94.5 136.97 L95 135.51 L95.5 134.27 L96 133.17 L96.5 132.09 L97 131.3 L97.5 131.09 L98 131.61 L98.5 132.56 L99 133.59 L99.5 134.57 L100 135.71 L100.5 137.1 L101 138.99 L101.5 141.4 L102 144.14 L102.5 147.04 L103 150.14 L103.5 153.63 L104 157.21 L104.5 160.7 L105 164.64 L105.5 168.39 L106 170.96 L106.5 172.32 L107 171.78 L107.5 169.93 L108 167.54 L108.5 164.87 L109 162.06 L109.5 159.41 L110 157.25 L110.5 155.94 L111 155.73 L111.5 156.08 L112 156.72 L112.5 157.57 L113 158.52 L113.5 159.5 L114 160.4 L114.5 161.13 L115 161.61 L115.5 161.74 L116 161.55 L116.5 161.13 L117 160.5 L117.5 159.7 L118 158.78 L118.5 157.77 L119 156.71 L119.5 155.63 L120 154.57 L120.5 153.57 L121 152.67 L121.5 151.91 L122 151.32 L122.5 150.94 L123 150.81 L123.5 150.93 L124 151.25 L124.5 151.73 L125 152.33 L125.5 152.99 L126 153.67 L126.5 154.33 L127 154.93 L127.5 155.41 L128 155.73 L128.5 155.85 L129 155.61 L129.5 154.93 L130 153.92 L130.5 152.67 L131 151.3 L131.5 149.89 L132 148.56 L132.5 147.4 L133 146.51 L133.5 145.99 L134 145.91 L134.5 146.09 L135 146.41 L135.5 146.85 L136 147.36 L136.5 147.92 L137 148.47 L137.5 148.99 L138 149.42 L138.5 149.75 L139 149.92 L139.5 149.88 L140 149.55 L140.5 148.98 L141 148.24 L141.5 147.39 L142 146.5 L142.5 145.64 L143 144.87 L143.5 144.26 L144 143.88 L144.5 143.78 L145 144 L145.5 144.45 L146 145.08 L146.5 145.83 L147 146.61 L147.5 147.36 L148 148.02 L148.5 148.52 L149 148.78 L149.5 148.76 L150 148.47 L150.5 147.96 L151 147.29 L151.5 146.53 L152 145.72 L152.5 144.92 L153 144.18 L153.5 143.57 L154 143.14 L154.5 142.95 L155 143.06 L155.5 143.5 L156 144.17 L156.5 145 L157 145.91 L157.5 146.82 L158 147.65 L158.5 148.32 L159 148.76 L159.5 148.87 L160 148.67 L160.5 148.22 L161 147.6 L161.5 146.87 L162 146.08 L162.5 145.31 L163 144.61 L163.5 144.05 L164 143.7 L164.5 143.61 L165 143.91 L165.5 144.56 L166 145.46 L166.5 146.51 L167 147.61 L167.5 148.66 L168 149.56 L168.5 150.21 L169 150.52 L169.5 150.42 L170 150.01 L170.5 149.36 L171 148.54 L171.5 147.62 L172 146.66 L172.5 145.73 L173 144.91 L173.5 144.27 L174 143.86 L174.5 143.76 L175 144.17 L175.5 145.08 L176 146.35 L176.5 147.88 L177 149.54 L177.5 151.21 L178 152.8 L178.5 154.32 L179 156.03 L179.5 157.49 L180 157.27 L180.5 155.54 L181 153.71 L181.5 151.99 L182 150.18 L182.5 148.34 L183 146.6 L183.5 145.13 L184 144.08 L184.5 143.59 L185 143.87 L185.5 144.94 L186 146.63 L186.5 148.77 L187 151.15 L187.5 153.61 L188 155.98 L188.5 158.2 L189 160.52 L189.5 162.7 L190 162.97 L190.5 161.08 L191 158.82 L191.5 156.72 L192 154.45 L192.5 151.98 L193 149.42 L193.5 146.92 L194 144.62 L194.5 142.67 L195 141.19 L195.5 140.35 L196 140.27 L196.5 141.04 L197 142.47 L197.5 144.37 L198 146.53 L198.5 148.76 L199 150.94 L199.5 153.47 L200 157.18 L200.5 160.11 L201 157.12 L201.5 150.89 L202 146.04 L202.5 141.75 L203 137.55 L203.5 133.64 L204 129.87 L204.5 126.12 L205 122.38 L205.5 118.57 L206 114.7 L206.5 110.92 L207 107.38 L207.5 103.82 L208 100.37 L208.5 97.36 L209 95.11 L209.5 93.35 L210 91.84 L210.5 90.55 L211 89.47 L211.5 88.51 L212 87.59 L212.5 86.94 L213 86.85 L213.5 87.39 L214 88.34 L214.5 89.47 L215 91.23 L215.5 93.63 L216 96.38 L216.5 99.17 L217 102.19 L217.5 105.5 L218 108.98 L218.5 112.5 L219 116.13 L219.5 119.91 L220 123.71 L220.5 127.4 L221 131.14 L221.5 135.21 L222 140.37 L222.5 147.3 L223 153.14 L223.5 151.65 L224 146.56 L224.5 142.86 L225 140.95 L225.5 139.63 L226 138.47 L226.5 137.5 L227 136.86 L227.5 136.7 L228 137.39 L228.5 138.94 L229 141.18 L229.5 143.91 L230 146.95 L230.5 150.12 L231 153.77 L231.5 160.54 L232 168.89 L232.5 174.64 L233 175.11 L233.5 169.89 L234 164.92 L234.5 162.74 L235 161.94 L235.5 161.47 L236 161.11 L236.5 160.9 L237 160.92 L237.5 161.61 L238 162.96 L238.5 164.82 L239 167.05 L239.5 169.52 L240 172.08 L240.5 174.61 L241 176.96 L241.5 179.12 L242 181.39 L242.5 183.85 L243 184.71 L243.5 183.09 L244 181.05 L244.5 179.63 L245 178.45 L245.5 177.39 L246 176.54 L246.5 176.07 L247 176.28 L247.5 177.63 L248 179.78 L248.5 182.34 L249 185.02 L249.5 187.77 L250 189.86 L250.5 189.66 L251 187.74 L251.5 185.62 L252 183.6 L252.5 181.56 L253 179.62 L253.5 178.01 L254 176.95 L254.5 176.69 L255 177.92 L255.5 180.43 L256 183.63 L256.5 187.06 L257 190.47 L257.5 192.95 L258 192.76 L258.5 190.6 L259 188.02 L259.5 185.31 L260 182.33 L260.5 179.22 L261 176.16 L261.5 173.4 L262 171.15 L262.5 169.64 L263 169.08 L263.5 169.29 L264 169.87 L264.5 170.74 L265 171.83 L265.5 173.04 L266 174.31 L266.5 175.54 L267 176.65 L267.5 177.57 L268 178.22 L268.5 178.51 L269 178.15 L269.5 176.83 L270 174.78 L270.5 172.26 L271 169.5 L271.5 166.78 L272 164.32 L272.5 162.4 L273 161.25 L273.5 161.08 L274 161.42 L274.5 162.05 L275 162.88 L275.5 163.8 L276 164.71 L276.5 165.51 L277 166.09 L277.5 166.36 L278 166.1 L278.5 165.13 L279 163.6 L279.5 161.67 L280 159.48 L280.5 157.2 L281 154.98 L281.5 152.98 L282 151.35 L282.5 150.25 L283 149.59 L283.5 149.08 L284 148.6 L284.5 147.99 L285 147.2 L285.5 146.27 L286 145.22 L286.5 144.04 L287 142.62 L287.5 141.03 L288 139.35 L288.5 137.68 L289 136.06 L289.5 134.45 L290 132.79 L290.5 131.04 L291 129.15 L291.5 127.08 L292 124.89 L292.5 122.66 L293 120.46 L293.5 118.38 L294 116.34 L294.5 114.2 L295 111.87 L295.5 109.16 L296 106.18 L296.5 103.2 L297 100.58 L297.5 97.95 L298 94.5 L298.5 88.47 L299 82.37 L299.5 77.05 L300 72.95 L300.5 67.4 L301 56 L301.5 46 L302 39.75 L302.5 35.34 L303 31.92 L303.5 32.16 L304 35.13 L304.5 38.78 L305 45.53 L305.5 57.88 L306 65.48 L306.5 71.25 L307 77.49 L307.5 84.07 L308 90.2 L308.5 94.13 L309 97.27 L309.5 100.3 L310 103.56 L310.5 106.7 L311 109.39 L311.5 111.67 L312 113.71 L312.5 115.65 L313 117.63 L313.5 119.65 L314 121.65 L314.5 123.64 L315 125.64 L315.5 127.62 L316 129.51 L316.5 131.42 L317 133.49 L317.5 135.88 L318 138.87 L318.5 142.38 L319 147.36 L319.5 152.89 L320 153.55 L320.5 151.09 L321 148.66 L321.5 146.98 L322 145.46 L322.5 143.83 L323 142.11 L323.5 140.46 L324 139.05 L324.5 138.02 L325 137.52 L325.5 137.52 L326 137.95 L326.5 138.63 L327 139.39 L327.5 140.19 L328 140.99 L328.5 142.36 L329 144.36 L329.5 146.57 L330 148.57 L330.5 150.1 L331 151.34 L331.5 152.52 L332 153.74 L332.5 155.09 L333 156.65 L333.5 158.34 L334 160.06 L334.5 161.76 L335 163.36 L335.5 164.83 L336 166.22 L336.5 167.59 L337 168.96 L337.5 170.31 L338 171.72 L338.5 173.18 L339 174.44 L339.5 175.32 L340 176.25 L340.5 177.24 L341 178.18 L341.5 178.93 L342 179.37 L342.5 179.63 L343 179.93 L343.5 180.38 L344 181.57 L344.5 183.42 L345 185.64 L345.5 187.98 L346 190.15 L346.5 191.91 L347 193.01 L347.5 193.27 L348 193.23 L348.5 193.07 L349 192.82 L349.5 192.48 L350 192.08 L350.5 191.64 L351 191.21 L351.5 190.79 L352 190.41 L352.5 190.1 L353 189.86 L353.5 189.72 L354 189.78 L354.5 190.65 L355 192.24 L355.5 194.29 L356 196.52 L356.5 198.68 L357 200.48 L357.5 201.67 L358 202 L358.5 201.95 L359 201.85 L359.5 201.7 L360 201.53 L360.5 201.33 L361 201.13 L361.5 200.94 L362 200.77 L362.5 200.63 L363 200.53 L363.5 200.5 L364 201.09 L364.5 202.59 L365 204.6 L365.5 206.74 L366 208.6 L366.5 209.78 L367 209.99 L367.5 209.84 L368 209.57 L368.5 209.2 L369 208.77 L369.5 208.31 L370 207.87 L370.5 207.47 L371 207.16 L371.5 206.95 L372 206.91 L372.5 207.38 L373 208.37 L373.5 209.69 L374 211.14 L374.5 212.53 L375 213.67 L375.5 214.37 L376 214.49 L376.5 214.4 L377 214.22 L377.5 213.98 L378 213.7 L378.5 213.4 L379 213.1 L379.5 212.82 L380 212.58 L380.5 212.4 L381 212.31 L381.5 212.39 L382 212.92 L382.5 213.8 L383 214.91 L383.5 216.15 L384 217.39 L384.5 218.5 L385 219.38 L385.5 219.91 L386 219.99 L386.5 219.93 L387 219.8 L387.5 219.62 L388 219.42 L388.5 219.2 L389 218.98 L389.5 218.78 L390 218.6 L390.5 218.47 L391 218.41 L391.5 218.48 L392 218.9 L392.5 219.61 L393 220.51 L393.5 221.5 L394 222.49 L394.5 223.39 L395 224.1 L395.5 224.52 L396 224.59 L396.5 224.49 L397 224.31 L397.5 224.06 L398 223.77 L398.5 223.45 L399 223.13 L399.5 222.84 L400 222.59 L400.5 222.41 L401 222.31 L401.5 222.37 L402 222.79 L402.5 223.49 L403 224.37 L403.5 225.35 L404 226.33 L404.5 227.21 L405 227.91 L405.5 228.33 L406 228.37 L406.5 228.06 L407 227.5 L407.5 226.8 L408 226.05 L408.5 225.37 L409 224.85 L409.5 224.61 L410 224.71 L410.5 225.11 L411 225.75 L411.5 226.56 L412 227.48 L412.5 228.43 L413 229.36 L413.5 230.2 L414 230.88 L414.5 231.33 L415 231.5 L415.5 231.35 L416 230.97 L416.5 230.43 L417 229.83 L417.5 229.24 L418 228.75 L418.5 228.45 L419 228.44 L419.5 228.79 L420 229.44 L420.5 230.26 L421 231.14 L421.5 231.96 L422 232.61 L422.5 232.96 L423 232.93 L423.5 232.57 L424 231.97 L424.5 231.25 L425 230.51 L425.5 229.85 L426 229.38 L426.5 229.2 L427 229.32 L427.5 229.64 L428 230.11 L428.5 230.68 L429 231.28 L429.5 231.87 L430 232.38 L430.5 232.77 L431 232.98 L431.5 232.95 L432 232.66 L432.5 232.19 L433 231.62 L433.5 231.03 L434 230.51 L434.5 230.14 L435 230 L435.5 230.08 L436 230.28 L436.5 230.56 L437 230.87 L437.5 231.17 L438 231.39 L438.5 231.5 L439 230.09 L439.5 226.26 L440 222.77 L440.5 219.17 L441 215.43 L441.5 211.35 L442 207.46 L442.5 204.4 L443 201.68 L443.5 199.64 L444 198.3 L444.5 197.11 L445 196.17 L445.5 195.61 L446 195.54 L446.5 196.01 L447 196.85 L447.5 197.92 L448 199.13 L448.5 200.88 L449 203.04 L449.5 205.31 L450 207.81 L450.5 210.52 L451 213.22 L451.5 215.89 L452 218.57 L452.5 221.27 L453 224.19 L453.5 227.49 L454 230.7 L454.5 233.33 L455 234.89 L455.5 235.68 L456 236.27 L456.5 236.72 L457 237.11 L457.5 237.43 L458 237.69 L458.5 237.88 L459 237.94 L459.5 237.81 L460 237.58 L460.5 237.29 L461 237 L461.5 236.78 L462 236.69 L462.5 236.8 L463 237.32 L463.5 238.19 L464 239.31 L464.5 240.59 L465 241.93 L465.5 243.24 L466 244.46 L466.5 245.55 L467 246.46 L467.5 247.13 L468 247.63 L468.5 247.78 L469 247.42 L469.5 246.49 L470 245.13 L470.5 243.61 L471 242.17 L471.5 240.97 L472 240.05 L472.5 239.39 L473 238.98 L473.5 238.82 L474 239.01 L474.5 239.66 L475 240.66 L475.5 241.92 L476 243.33 L476.5 244.82 L477 246.34 L477.5 247.84 L478 249.19 L478.5 250.18 L479 250.6 L479.5 250.38 L480 249.5 L480.5 248.12 L481 246.55 L481.5 245.08 L482 243.89 L482.5 243.05 L483 242.6 L483.5 242.55 L484 242.96 L484.5 243.76 L485 244.82 L485.5 246.05 L486 247.36 L486.5 248.7 L487 250 L487.5 251.23 L488 252.29 L488.5 253 L489 253.32 L489.5 253.09 L490 252.27 L490.5 251 L491 249.55 L491.5 248.18 L492 247.05 L492.5 246.2 L493 245.63 L493.5 245.32 L494 245.32 L494.5 245.92 L495 247 L495.5 248.41 L496 250.01 L496.5 251.65 L497 253.15 L497.5 254.2 L498 254.71 L498.5 254.72 L499 254.12 L499.5 252.98 L500 251.5 L500.5 249.87 L501 248.18 L501.5 246.39" fill="none" stroke="#3a3ae0" stroke-width="1.1" stroke-opacity="0.6" stroke-linejoin="round"/>
<rect x="61.5" y="16.5" width="440.0" height="238.5" fill="none" stroke="#2a2a2a" stroke-width="1"/>
<path d="M61.5 255v-4M61.5 16.5v4M116.5 255v-4M116.5 16.5v4M171.5 255v-4M171.5 16.5v4M226.5 255v-4M226.5 16.5v4M281.5 255v-4M281.5 16.5v4M336.5 255v-4M336.5 16.5v4M391.5 255v-4M391.5 16.5v4M446.5 255v-4M446.5 16.5v4M501.5 255v-4M501.5 16.5v4M72.5 255v-2M72.5 16.5v2M83.5 255v-2M83.5 16.5v2M94.5 255v-2M94.5 16.5v2M105.5 255v-2M105.5 16.5v2M127.5 255v-2M127.5 16.5v2M138.5 255v-2M138.5 16.5v2M149.5 255v-2M149.5 16.5v2M160.5 255v-2M160.5 16.5v2M182.5 255v-2M182.5 16.5v2M193.5 255v-2M193.5 16.5v2M204.5 255v-2M204.5 16.5v2M215.5 255v-2M215.5 16.5v2M237.5 255v-2M237.5 16.5v2M248.5 255v-2M248.5 16.5v2M259.5 255v-2M259.5 16.5v2M270.5 255v-2M270.5 16.5v2M292.5 255v-2M292.5 16.5v2M303.5 255v-2M303.5 16.5v2M314.5 255v-2M314.5 16.5v2M325.5 255v-2M325.5 16.5v2M347.5 255v-2M347.5 16.5v2M358.5 255v-2M358.5 16.5v2M369.5 255v-2M369.5 16.5v2M380.5 255v-2M380.5 16.5v2M402.5 255v-2M402.5 16.5v2M413.5 255v-2M413.5 16.5v2M424.5 255v-2M424.5 16.5v2M435.5 255v-2M435.5 16.5v2M457.5 255v-2M457.5 16.5v2M468.5 255v-2M468.5 16.5v2M479.5 255v-2M479.5 16.5v2M490.5 255v-2M490.5 16.5v2M61.5 16.5h4M501.5 16.5h-4M61.5 106.5h4M501.5 106.5h-4M61.5 196.5h4M501.5 196.5h-4" stroke="#2a2a2a" stroke-width="1" fill="none"/>
<g class="k" font-size="17.8" fill="#111"><text x="61.5" y="273.8" text-anchor="middle">22.8</text><text x="116.5" y="273.8" text-anchor="middle">22.9</text><text x="171.5" y="273.8" text-anchor="middle">23.0</text><text x="226.5" y="273.8" text-anchor="middle">23.1</text><text x="281.5" y="273.8" text-anchor="middle">23.2</text><text x="336.5" y="273.8" text-anchor="middle">23.3</text><text x="391.5" y="273.8" text-anchor="middle">23.4</text><text x="446.5" y="273.8" text-anchor="middle">23.5</text><text x="501.5" y="273.8" text-anchor="middle">23.6</text></g>
<g class="k" fill="#111">
<text x="44.8" y="22.6" font-size="17" text-anchor="end">10</text><text x="45.6" y="12.8" font-size="11.2">0</text>
<text x="44.8" y="112.6" font-size="17" text-anchor="end">10</text><text x="45.4" y="102.8" font-size="11.8">&#8722;2</text>
<text x="44.8" y="202.6" font-size="17" text-anchor="end">10</text><text x="45.4" y="192.8" font-size="11.8">&#8722;4</text>
<text x="0.5" y="25" font-size="19.5">(a)</text>
<text x="19.2" y="192.4" font-size="21.1" transform="rotate(-90 19.2 192.4)">rel. Intensity</text>
<text x="247.6" y="292.9" font-size="20.6"><tspan font-family="Liberation Serif">&#952;</tspan> /<tspan dx="1.5"> deg.</tspan></text>
<text x="74" y="39.9" font-size="17.1">@ 8.05keV</text>
<text x="83" y="113.5" font-size="16.9">SL &#8722;1</text>
<text x="196.8" y="70.3" font-size="17.6">SL 0</text>
<text x="311" y="37.2" font-size="17.4">Substrate</text>
<text x="323.8" y="130.2" font-size="17.3">SL +1</text>
<text x="430" y="182.2" font-size="17.6">SL +2</text>
</g>
<rect x="366.5" y="50.5" width="126" height="55" fill="#fff" stroke="#2a2a2a" stroke-width="1"/>
<circle cx="385.4" cy="65.1" r="2.6" fill="none" stroke="#222" stroke-width="1"/>
<line x1="371.7" y1="90.6" x2="399.5" y2="90.6" stroke="#5a5ae6" stroke-width="1.4"/>
<g class="k" fill="#111" font-size="15.8"><text x="401.4" y="70.1">BESSY Data</text>
<text x="401.4" y="96.6">Simulation</text></g>

<defs><filter id="bl" x="-2%" y="-2%" width="104%" height="104%" color-interpolation-filters="sRGB"><feGaussianBlur stdDeviation="0.7"/></filter>
<filter id="bl2" x="-2%" y="-2%" width="104%" height="104%" color-interpolation-filters="sRGB"><feGaussianBlur stdDeviation="0.85"/></filter>
<clipPath id="cb"><rect x="7" y="319.5" width="227" height="209"/></clipPath>
<clipPath id="cc"><rect x="297" y="319.5" width="209" height="209"/></clipPath></defs>
<g clip-path="url(#cb)"><g filter="url(#bl2)"><rect x="7.0" y="319.5" width="227.0" height="209.0" fill="#08090b"/><rect x="157.5" y="354.6" width="4.3" height="4.4" fill="#1c0000"/><rect x="84.4" y="450.3" width="4.3" height="4.4" fill="#1c0000"/><rect x="71.5" y="354.6" width="4.3" height="4.4" fill="#1c0000"/><rect x="136.0" y="406.8" width="4.3" height="4.4" fill="#1c0000"/><rect x="140.3" y="441.6" width="4.3" height="4.4" fill="#1c0000"/><rect x="114.5" y="393.8" width="4.3" height="4.4" fill="#1c0000"/><rect x="110.2" y="398.1" width="4.3" height="4.4" fill="#1c0000"/><rect x="84.4" y="441.6" width="4.3" height="4.4" fill="#280000"/><rect x="153.2" y="380.7" width="4.3" height="4.4" fill="#280000"/><rect x="136.0" y="432.9" width="4.3" height="4.4" fill="#1c0000"/><rect x="170.4" y="345.9" width="4.3" height="4.4" fill="#280000"/><rect x="170.4" y="380.7" width="4.3" height="4.4" fill="#1c0000"/><rect x="71.5" y="459.0" width="4.3" height="4.4" fill="#1c0000"/><rect x="93.0" y="406.8" width="4.3" height="4.4" fill="#280000"/><rect x="118.8" y="345.9" width="4.3" height="4.4" fill="#280000"/><rect x="123.1" y="393.8" width="4.3" height="4.4" fill="#1c0000"/><rect x="131.7" y="428.5" width="4.3" height="4.4" fill="#280000"/><rect x="170.4" y="372.0" width="4.3" height="4.4" fill="#280000"/><rect x="93.0" y="380.7" width="4.3" height="4.4" fill="#280000"/><rect x="97.3" y="437.2" width="4.3" height="4.4" fill="#1c0000"/><rect x="110.2" y="450.3" width="4.3" height="4.4" fill="#280000"/><rect x="67.2" y="432.9" width="4.3" height="4.4" fill="#280000"/><rect x="166.1" y="398.1" width="4.3" height="4.4" fill="#280000"/><rect x="101.6" y="459.0" width="4.3" height="4.4" fill="#1c0000"/><rect x="131.7" y="454.6" width="4.3" height="4.4" fill="#1c0000"/><rect x="166.1" y="406.8" width="4.3" height="4.4" fill="#1c0000"/><rect x="105.1" y="385.1" width="4.3" height="4.4" fill="#1e0000"/><rect x="100.8" y="389.4" width="4.3" height="4.4" fill="#1e0000"/><rect x="105.1" y="389.4" width="4.3" height="4.4" fill="#3a0000"/><rect x="109.4" y="389.4" width="4.3" height="4.4" fill="#1e0000"/><rect x="151.1" y="389.4" width="4.3" height="4.4" fill="#b80000"/><rect x="100.8" y="393.8" width="4.3" height="4.4" fill="#3a0000"/><rect x="105.1" y="393.8" width="4.3" height="4.4" fill="#1e0000"/><rect x="109.4" y="393.8" width="4.3" height="4.4" fill="#3a0000"/><rect x="113.7" y="393.8" width="4.3" height="4.4" fill="#1e0000"/><rect x="142.5" y="393.8" width="4.3" height="4.4" fill="#e40000"/><rect x="146.8" y="393.8" width="4.3" height="4.4" fill="#ff0404"/><rect x="151.1" y="393.8" width="4.3" height="4.4" fill="#ff0404"/><rect x="155.4" y="393.8" width="4.3" height="4.4" fill="#e40000"/><rect x="96.5" y="398.1" width="4.3" height="4.4" fill="#1e0000"/><rect x="100.8" y="398.1" width="4.3" height="4.4" fill="#3a0000"/><rect x="105.1" y="398.1" width="4.3" height="4.4" fill="#3a0000"/><rect x="109.4" y="398.1" width="4.3" height="4.4" fill="#3a0000"/><rect x="113.7" y="398.1" width="4.3" height="4.4" fill="#3a0000"/><rect x="118.0" y="398.1" width="4.3" height="4.4" fill="#3a0000"/><rect x="122.3" y="398.1" width="4.3" height="4.4" fill="#1e0000"/><rect x="142.5" y="398.1" width="4.3" height="4.4" fill="#e40000"/><rect x="146.8" y="398.1" width="4.3" height="4.4" fill="#ff9000"/><rect x="151.1" y="398.1" width="4.3" height="4.4" fill="#ffff50"/><rect x="155.4" y="398.1" width="4.3" height="4.4" fill="#e40000"/><rect x="100.8" y="402.4" width="4.3" height="4.4" fill="#1e0000"/><rect x="105.1" y="402.4" width="4.3" height="4.4" fill="#3a0000"/><rect x="109.4" y="402.4" width="4.3" height="4.4" fill="#850000"/><rect x="113.7" y="402.4" width="4.3" height="4.4" fill="#3a0000"/><rect x="118.0" y="402.4" width="4.3" height="4.4" fill="#3a0000"/><rect x="122.3" y="402.4" width="4.3" height="4.4" fill="#1e0000"/><rect x="142.5" y="402.4" width="4.3" height="4.4" fill="#e40000"/><rect x="146.8" y="402.4" width="4.3" height="4.4" fill="#ffff50"/><rect x="151.1" y="402.4" width="4.3" height="4.4" fill="#ffff50"/><rect x="155.4" y="402.4" width="4.3" height="4.4" fill="#e40000"/><rect x="159.7" y="402.4" width="4.3" height="4.4" fill="#1e0000"/><rect x="100.8" y="406.8" width="4.3" height="4.4" fill="#3a0000"/><rect x="105.1" y="406.8" width="4.3" height="4.4" fill="#3a0000"/><rect x="109.4" y="406.8" width="4.3" height="4.4" fill="#3a0000"/><rect x="113.7" y="406.8" width="4.3" height="4.4" fill="#3a0000"/><rect x="118.0" y="406.8" width="4.3" height="4.4" fill="#3a0000"/><rect x="122.3" y="406.8" width="4.3" height="4.4" fill="#3a0000"/><rect x="126.6" y="406.8" width="4.3" height="4.4" fill="#3a0000"/><rect x="129.6" y="406.8" width="4.3" height="4.4" fill="#1e0000"/><rect x="138.2" y="406.8" width="4.3" height="4.4" fill="#1e0000"/><rect x="142.5" y="406.8" width="4.3" height="4.4" fill="#e40000"/><rect x="146.8" y="406.8" width="4.3" height="4.4" fill="#ffff50"/><rect x="151.1" y="406.8" width="4.3" height="4.4" fill="#ffe000"/><rect x="155.4" y="406.8" width="4.3" height="4.4" fill="#e40000"/><rect x="159.7" y="406.8" width="4.3" height="4.4" fill="#3a0000"/><rect x="100.8" y="411.1" width="4.3" height="4.4" fill="#1e0000"/><rect x="105.1" y="411.1" width="4.3" height="4.4" fill="#3a0000"/><rect x="109.4" y="411.1" width="4.3" height="4.4" fill="#3a0000"/><rect x="113.7" y="411.1" width="4.3" height="4.4" fill="#850000"/><rect x="118.0" y="411.1" width="4.3" height="4.4" fill="#3a0000"/><rect x="122.3" y="411.1" width="4.3" height="4.4" fill="#3a0000"/><rect x="126.6" y="411.1" width="4.3" height="4.4" fill="#1e0000"/><rect x="129.6" y="411.1" width="4.3" height="4.4" fill="#1e0000"/><rect x="138.2" y="411.1" width="4.3" height="4.4" fill="#1e0000"/><rect x="142.5" y="411.1" width="4.3" height="4.4" fill="#e40000"/><rect x="146.8" y="411.1" width="4.3" height="4.4" fill="#ffe000"/><rect x="151.1" y="411.1" width="4.3" height="4.4" fill="#ff9000"/><rect x="155.4" y="411.1" width="4.3" height="4.4" fill="#e40000"/><rect x="159.7" y="411.1" width="4.3" height="4.4" fill="#1e0000"/><rect x="96.5" y="415.5" width="4.3" height="4.4" fill="#1e0000"/><rect x="100.8" y="415.5" width="4.3" height="4.4" fill="#3a0000"/><rect x="105.1" y="415.5" width="4.3" height="4.4" fill="#3a0000"/><rect x="109.4" y="415.5" width="4.3" height="4.4" fill="#3a0000"/><rect x="113.7" y="415.5" width="4.3" height="4.4" fill="#3a0000"/><rect x="118.0" y="415.5" width="4.3" height="4.4" fill="#3a0000"/><rect x="122.3" y="415.5" width="4.3" height="4.4" fill="#3a0000"/><rect x="126.6" y="415.5" width="4.3" height="4.4" fill="#1e0000"/><rect x="133.9" y="415.5" width="4.3" height="4.4" fill="#1e0000"/><rect x="138.2" y="415.5" width="4.3" height="4.4" fill="#3a0000"/><rect x="142.5" y="415.5" width="4.3" height="4.4" fill="#e40000"/><rect x="146.8" y="415.5" width="4.3" height="4.4" fill="#ff9000"/><rect x="151.1" y="415.5" width="4.3" height="4.4" fill="#850000"/><rect x="155.4" y="415.5" width="4.3" height="4.4" fill="#b80000"/><rect x="96.5" y="419.8" width="4.3" height="4.4" fill="#1e0000"/><rect x="100.8" y="419.8" width="4.3" height="4.4" fill="#e40000"/><rect x="105.1" y="419.8" width="4.3" height="4.4" fill="#ff0404"/><rect x="109.4" y="419.8" width="4.3" height="4.4" fill="#b80000"/><rect x="113.7" y="419.8" width="4.3" height="4.4" fill="#850000"/><rect x="118.0" y="419.8" width="4.3" height="4.4" fill="#3a0000"/><rect x="122.3" y="419.8" width="4.3" height="4.4" fill="#3a0000"/><rect x="126.6" y="419.8" width="4.3" height="4.4" fill="#1e0000"/><rect x="133.9" y="419.8" width="4.3" height="4.4" fill="#1e0000"/><rect x="138.2" y="419.8" width="4.3" height="4.4" fill="#3a0000"/><rect x="142.5" y="419.8" width="4.3" height="4.4" fill="#e40000"/><rect x="146.8" y="419.8" width="4.3" height="4.4" fill="#ffe000"/><rect x="151.1" y="419.8" width="4.3" height="4.4" fill="#b80000"/><rect x="155.4" y="419.8" width="4.3" height="4.4" fill="#b80000"/><rect x="159.7" y="419.8" width="4.3" height="4.4" fill="#1e0000"/><rect x="96.5" y="424.2" width="4.3" height="4.4" fill="#1e0000"/><rect x="100.8" y="424.2" width="4.3" height="4.4" fill="#e40000"/><rect x="105.1" y="424.2" width="4.3" height="4.4" fill="#ff0404"/><rect x="109.4" y="424.2" width="4.3" height="4.4" fill="#b80000"/><rect x="113.7" y="424.2" width="4.3" height="4.4" fill="#850000"/><rect x="118.0" y="424.2" width="4.3" height="4.4" fill="#3a0000"/><rect x="122.3" y="424.2" width="4.3" height="4.4" fill="#3a0000"/><rect x="138.2" y="424.2" width="4.3" height="4.4" fill="#3a0000"/><rect x="142.5" y="424.2" width="4.3" height="4.4" fill="#e40000"/><rect x="146.8" y="424.2" width="4.3" height="4.4" fill="#ffff50"/><rect x="151.1" y="424.2" width="4.3" height="4.4" fill="#ffff50"/><rect x="155.4" y="424.2" width="4.3" height="4.4" fill="#e40000"/><rect x="159.7" y="424.2" width="4.3" height="4.4" fill="#1e0000"/><rect x="96.5" y="428.5" width="4.3" height="4.4" fill="#1e0000"/><rect x="100.8" y="428.5" width="4.3" height="4.4" fill="#ff0404"/><rect x="105.1" y="428.5" width="4.3" height="4.4" fill="#ff0404"/><rect x="109.4" y="428.5" width="4.3" height="4.4" fill="#b80000"/><rect x="113.7" y="428.5" width="4.3" height="4.4" fill="#850000"/><rect x="118.0" y="428.5" width="4.3" height="4.4" fill="#3a0000"/><rect x="122.3" y="428.5" width="4.3" height="4.4" fill="#3a0000"/><rect x="138.2" y="428.5" width="4.3" height="4.4" fill="#1e0000"/><rect x="142.5" y="428.5" width="4.3" height="4.4" fill="#e40000"/><rect x="146.8" y="428.5" width="4.3" height="4.4" fill="#ffffd8"/><rect x="151.1" y="428.5" width="4.3" height="4.4" fill="#ffff50"/><rect x="155.4" y="428.5" width="4.3" height="4.4" fill="#e40000"/><rect x="159.7" y="428.5" width="4.3" height="4.4" fill="#1e0000"/><rect x="96.5" y="432.9" width="4.3" height="4.4" fill="#1e0000"/><rect x="100.8" y="432.9" width="4.3" height="4.4" fill="#ff0404"/><rect x="105.1" y="432.9" width="4.3" height="4.4" fill="#ff0404"/><rect x="109.4" y="432.9" width="4.3" height="4.4" fill="#b80000"/><rect x="113.7" y="432.9" width="4.3" height="4.4" fill="#850000"/><rect x="118.0" y="432.9" width="4.3" height="4.4" fill="#1e0000"/><rect x="142.5" y="432.9" width="4.3" height="4.4" fill="#b80000"/><rect x="146.8" y="432.9" width="4.3" height="4.4" fill="#ffff50"/><rect x="151.1" y="432.9" width="4.3" height="4.4" fill="#ffff50"/><rect x="155.4" y="432.9" width="4.3" height="4.4" fill="#b80000"/><rect x="100.8" y="437.2" width="4.3" height="4.4" fill="#e40000"/><rect x="105.1" y="437.2" width="4.3" height="4.4" fill="#ff0404"/><rect x="109.4" y="437.2" width="4.3" height="4.4" fill="#850000"/><rect x="113.7" y="437.2" width="4.3" height="4.4" fill="#3a0000"/><rect x="142.5" y="437.2" width="4.3" height="4.4" fill="#e40000"/><rect x="146.8" y="437.2" width="4.3" height="4.4" fill="#ff0404"/><rect x="151.1" y="437.2" width="4.3" height="4.4" fill="#e40000"/><rect x="155.4" y="437.2" width="4.3" height="4.4" fill="#850000"/><rect x="100.8" y="441.6" width="4.3" height="4.4" fill="#e40000"/><rect x="105.1" y="441.6" width="4.3" height="4.4" fill="#ff0404"/><rect x="109.4" y="441.6" width="4.3" height="4.4" fill="#850000"/><rect x="113.7" y="441.6" width="4.3" height="4.4" fill="#3a0000"/><rect x="142.5" y="441.6" width="4.3" height="4.4" fill="#850000"/><rect x="146.8" y="441.6" width="4.3" height="4.4" fill="#e40000"/><rect x="151.1" y="441.6" width="4.3" height="4.4" fill="#b80000"/><rect x="100.8" y="445.9" width="4.3" height="4.4" fill="#e40000"/><rect x="105.1" y="445.9" width="4.3" height="4.4" fill="#e40000"/><rect x="109.4" y="445.9" width="4.3" height="4.4" fill="#3a0000"/><rect x="113.7" y="445.9" width="4.3" height="4.4" fill="#1e0000"/><rect x="146.8" y="445.9" width="4.3" height="4.4" fill="#3a0000"/><rect x="100.8" y="450.3" width="4.3" height="4.4" fill="#3a0000"/><rect x="105.1" y="450.3" width="4.3" height="4.4" fill="#3a0000"/><rect x="109.4" y="450.3" width="4.3" height="4.4" fill="#3a0000"/><rect x="100.8" y="454.6" width="4.3" height="4.4" fill="#1e0000"/><rect x="105.1" y="454.6" width="4.3" height="4.4" fill="#3a0000"/><rect x="109.4" y="454.6" width="4.3" height="4.4" fill="#1e0000"/><rect x="105.1" y="459.0" width="4.3" height="4.4" fill="#1e0000"/><rect x="105.1" y="463.3" width="4.3" height="4.4" fill="#1e0000"/></g></g>
<g clip-path="url(#cc)"><g filter="url(#bl)"><rect x="297.0" y="319.5" width="209.0" height="209.0" fill="#08090b"/><rect x="400.0" y="329.0" width="3.6" height="2.6" fill="#360000"/><rect x="403.6" y="329.0" width="3.6" height="2.6" fill="#e10000"/><rect x="407.0" y="329.0" width="3.6" height="2.6" fill="#420000"/><rect x="413.0" y="329.0" width="3.6" height="2.6" fill="#2f0000"/><rect x="416.6" y="329.0" width="3.6" height="2.6" fill="#370000"/><rect x="429.4" y="329.0" width="3.6" height="2.6" fill="#1d0000"/><rect x="433.0" y="329.0" width="3.6" height="2.6" fill="#ff7700"/><rect x="400.0" y="331.6" width="3.6" height="2.6" fill="#e50000"/><rect x="403.6" y="331.6" width="3.6" height="2.6" fill="#a40000"/><rect x="407.0" y="331.6" width="3.6" height="2.6" fill="#280000"/><rect x="413.0" y="331.6" width="3.6" height="2.6" fill="#d10000"/><rect x="416.6" y="331.6" width="3.6" height="2.6" fill="#c70000"/><rect x="429.4" y="331.6" width="3.6" height="2.6" fill="#260000"/><rect x="409.8" y="331.6" width="3.6" height="2.6" fill="#1b0000"/><rect x="433.0" y="331.6" width="3.6" height="2.6" fill="#ff7700"/><rect x="400.0" y="334.2" width="3.6" height="2.6" fill="#7c0000"/><rect x="407.0" y="334.2" width="3.6" height="2.6" fill="#3b0000"/><rect x="413.0" y="334.2" width="3.6" height="2.6" fill="#b80000"/><rect x="416.6" y="334.2" width="3.6" height="2.6" fill="#ba0000"/><rect x="409.8" y="334.2" width="3.6" height="2.6" fill="#2c0000"/><rect x="433.0" y="334.2" width="3.6" height="2.6" fill="#ff7700"/><rect x="400.0" y="336.8" width="3.6" height="2.6" fill="#140000"/><rect x="403.6" y="336.8" width="3.6" height="2.6" fill="#b10000"/><rect x="407.0" y="336.8" width="3.6" height="2.6" fill="#160000"/><rect x="413.0" y="336.8" width="3.6" height="2.6" fill="#8f0000"/><rect x="429.4" y="336.8" width="3.6" height="2.6" fill="#1c0000"/><rect x="433.0" y="336.8" width="3.6" height="2.6" fill="#ff7700"/><rect x="403.6" y="339.4" width="3.6" height="2.6" fill="#390000"/><rect x="407.0" y="339.4" width="3.6" height="2.6" fill="#900000"/><rect x="413.0" y="339.4" width="3.6" height="2.6" fill="#d80000"/><rect x="436.6" y="339.4" width="3.6" height="2.6" fill="#ff5100"/><rect x="400.0" y="342.0" width="3.6" height="2.6" fill="#aa0000"/><rect x="407.0" y="342.0" width="3.6" height="2.6" fill="#210000"/><rect x="416.6" y="342.0" width="3.6" height="2.6" fill="#cd0000"/><rect x="429.4" y="342.0" width="3.6" height="2.6" fill="#ff0400"/><rect x="436.6" y="342.0" width="3.6" height="2.6" fill="#ab0000"/><rect x="400.0" y="344.6" width="3.6" height="2.6" fill="#350000"/><rect x="403.6" y="344.6" width="3.6" height="2.6" fill="#db0000"/><rect x="407.0" y="344.6" width="3.6" height="2.6" fill="#300000"/><rect x="413.0" y="344.6" width="3.6" height="2.6" fill="#330000"/><rect x="429.4" y="344.6" width="3.6" height="2.6" fill="#c80000"/><rect x="400.0" y="347.2" width="3.6" height="2.6" fill="#370000"/><rect x="403.6" y="347.2" width="3.6" height="2.6" fill="#340000"/><rect x="407.0" y="347.2" width="3.6" height="2.6" fill="#350000"/><rect x="413.0" y="347.2" width="3.6" height="2.6" fill="#1e0000"/><rect x="416.6" y="347.2" width="3.6" height="2.6" fill="#350000"/><rect x="436.6" y="347.2" width="3.6" height="2.6" fill="#ae0000"/><rect x="400.0" y="349.8" width="3.6" height="2.6" fill="#dd0000"/><rect x="403.6" y="349.8" width="3.6" height="2.6" fill="#7e0000"/><rect x="407.0" y="349.8" width="3.6" height="2.6" fill="#300000"/><rect x="413.0" y="349.8" width="3.6" height="2.6" fill="#f00000"/><rect x="416.6" y="349.8" width="3.6" height="2.6" fill="#3c0000"/><rect x="429.4" y="349.8" width="3.6" height="2.6" fill="#f90000"/><rect x="409.8" y="349.8" width="3.6" height="2.6" fill="#200000"/><rect x="436.6" y="349.8" width="3.6" height="2.6" fill="#c30000"/><rect x="400.0" y="352.4" width="3.6" height="2.6" fill="#ff5600"/><rect x="403.6" y="352.4" width="3.6" height="2.6" fill="#400000"/><rect x="407.0" y="352.4" width="3.6" height="2.6" fill="#260000"/><rect x="413.0" y="352.4" width="3.6" height="2.6" fill="#350000"/><rect x="416.6" y="352.4" width="3.6" height="2.6" fill="#660000"/><rect x="429.4" y="352.4" width="3.6" height="2.6" fill="#7f0000"/><rect x="403.6" y="355.0" width="3.6" height="2.6" fill="#dd0000"/><rect x="407.0" y="355.0" width="3.6" height="2.6" fill="#280000"/><rect x="413.0" y="355.0" width="3.6" height="2.6" fill="#2f0000"/><rect x="416.6" y="355.0" width="3.6" height="2.6" fill="#d20000"/><rect x="409.8" y="355.0" width="3.6" height="2.6" fill="#1d0000"/><rect x="400.0" y="357.6" width="3.6" height="2.6" fill="#240000"/><rect x="403.6" y="357.6" width="3.6" height="2.6" fill="#200000"/><rect x="407.0" y="357.6" width="3.6" height="2.6" fill="#380000"/><rect x="413.0" y="357.6" width="3.6" height="2.6" fill="#a80000"/><rect x="416.6" y="357.6" width="3.6" height="2.6" fill="#1f0000"/><rect x="400.0" y="360.2" width="3.6" height="2.6" fill="#400000"/><rect x="403.6" y="360.2" width="3.6" height="2.6" fill="#ff0a00"/><rect x="413.0" y="360.2" width="3.6" height="2.6" fill="#200000"/><rect x="416.6" y="360.2" width="3.6" height="2.6" fill="#cb0000"/><rect x="429.4" y="360.2" width="3.6" height="2.6" fill="#250000"/><rect x="409.8" y="360.2" width="3.6" height="2.6" fill="#180000"/><rect x="436.6" y="360.2" width="3.6" height="2.6" fill="#ff1c00"/><rect x="400.0" y="362.8" width="3.6" height="2.6" fill="#c60000"/><rect x="403.6" y="362.8" width="3.6" height="2.6" fill="#240000"/><rect x="413.0" y="362.8" width="3.6" height="2.6" fill="#240000"/><rect x="416.6" y="362.8" width="3.6" height="2.6" fill="#3b0000"/><rect x="429.4" y="362.8" width="3.6" height="2.6" fill="#b90000"/><rect x="400.0" y="365.4" width="3.6" height="2.6" fill="#d30000"/><rect x="403.6" y="365.4" width="3.6" height="2.6" fill="#250000"/><rect x="407.0" y="365.4" width="3.6" height="2.6" fill="#150000"/><rect x="413.0" y="365.4" width="3.6" height="2.6" fill="#ca0000"/><rect x="416.6" y="365.4" width="3.6" height="2.6" fill="#930000"/><rect x="429.4" y="365.4" width="3.6" height="2.6" fill="#350000"/><rect x="409.8" y="365.4" width="3.6" height="2.6" fill="#3a0000"/><rect x="433.0" y="365.4" width="3.6" height="2.6" fill="#ffff97"/><rect x="400.0" y="368.0" width="3.6" height="2.6" fill="#230000"/><rect x="403.6" y="368.0" width="3.6" height="2.6" fill="#ce0000"/><rect x="407.0" y="368.0" width="3.6" height="2.6" fill="#160000"/><rect x="416.6" y="368.0" width="3.6" height="2.6" fill="#df0000"/><rect x="433.0" y="368.0" width="3.6" height="2.6" fill="#ffff62"/><rect x="407.0" y="370.6" width="3.6" height="2.6" fill="#140000"/><rect x="413.0" y="370.6" width="3.6" height="2.6" fill="#520000"/><rect x="416.6" y="370.6" width="3.6" height="2.6" fill="#380000"/><rect x="429.4" y="370.6" width="3.6" height="2.6" fill="#ff0900"/><rect x="409.8" y="370.6" width="3.6" height="2.6" fill="#3a0000"/><rect x="433.0" y="370.6" width="3.6" height="2.6" fill="#ffff43"/><rect x="400.0" y="373.2" width="3.6" height="2.6" fill="#ed0000"/><rect x="403.6" y="373.2" width="3.6" height="2.6" fill="#260000"/><rect x="407.0" y="373.2" width="3.6" height="2.6" fill="#400000"/><rect x="416.6" y="373.2" width="3.6" height="2.6" fill="#a80000"/><rect x="429.4" y="373.2" width="3.6" height="2.6" fill="#b50000"/><rect x="433.0" y="373.2" width="3.6" height="2.6" fill="#ffff2b"/><rect x="400.0" y="375.8" width="3.6" height="2.6" fill="#fb0000"/><rect x="403.6" y="375.8" width="3.6" height="2.6" fill="#1e0000"/><rect x="407.0" y="375.8" width="3.6" height="2.6" fill="#1c0000"/><rect x="413.0" y="375.8" width="3.6" height="2.6" fill="#a60000"/><rect x="416.6" y="375.8" width="3.6" height="2.6" fill="#e40000"/><rect x="429.4" y="375.8" width="3.6" height="2.6" fill="#330000"/><rect x="409.8" y="375.8" width="3.6" height="2.6" fill="#250000"/><rect x="433.0" y="375.8" width="3.6" height="2.6" fill="#ffffa2"/><rect x="400.0" y="378.4" width="3.6" height="2.6" fill="#ae0000"/><rect x="403.6" y="378.4" width="3.6" height="2.6" fill="#b10000"/><rect x="407.0" y="378.4" width="3.6" height="2.6" fill="#340000"/><rect x="413.0" y="378.4" width="3.6" height="2.6" fill="#7c0000"/><rect x="416.6" y="378.4" width="3.6" height="2.6" fill="#340000"/><rect x="429.4" y="378.4" width="3.6" height="2.6" fill="#ff1200"/><rect x="433.0" y="378.4" width="3.6" height="2.6" fill="#ffff69"/><rect x="400.0" y="381.0" width="3.6" height="2.6" fill="#ea0000"/><rect x="403.6" y="381.0" width="3.6" height="2.6" fill="#ff0b00"/><rect x="416.6" y="381.0" width="3.6" height="2.6" fill="#eb0000"/><rect x="429.4" y="381.0" width="3.6" height="2.6" fill="#dc0000"/><rect x="433.0" y="381.0" width="3.6" height="2.6" fill="#ffff39"/><rect x="400.0" y="383.6" width="3.6" height="2.6" fill="#ff0500"/><rect x="403.6" y="383.6" width="3.6" height="2.6" fill="#ff1700"/><rect x="407.0" y="383.6" width="3.6" height="2.6" fill="#320000"/><rect x="413.0" y="383.6" width="3.6" height="2.6" fill="#760000"/><rect x="429.4" y="383.6" width="3.6" height="2.6" fill="#3e0000"/><rect x="433.0" y="383.6" width="3.6" height="2.6" fill="#fffc00"/><rect x="400.0" y="386.2" width="3.6" height="2.6" fill="#e80000"/><rect x="403.6" y="386.2" width="3.6" height="2.6" fill="#410000"/><rect x="407.0" y="386.2" width="3.6" height="2.6" fill="#2b0000"/><rect x="413.0" y="386.2" width="3.6" height="2.6" fill="#1e0000"/><rect x="433.0" y="386.2" width="3.6" height="2.6" fill="#ffff81"/><rect x="400.0" y="388.8" width="3.6" height="2.6" fill="#ff5100"/><rect x="403.6" y="388.8" width="3.6" height="2.6" fill="#fe0000"/><rect x="407.0" y="388.8" width="3.6" height="2.6" fill="#220000"/><rect x="413.0" y="388.8" width="3.6" height="2.6" fill="#a50000"/><rect x="416.6" y="388.8" width="3.6" height="2.6" fill="#590000"/><rect x="429.4" y="388.8" width="3.6" height="2.6" fill="#320000"/><rect x="433.0" y="388.8" width="3.6" height="2.6" fill="#ffffa8"/><rect x="436.6" y="388.8" width="3.6" height="2.6" fill="#e70000"/><rect x="400.0" y="391.4" width="3.6" height="2.6" fill="#e40000"/><rect x="403.6" y="391.4" width="3.6" height="2.6" fill="#3c0000"/><rect x="407.0" y="391.4" width="3.6" height="2.6" fill="#260000"/><rect x="416.6" y="391.4" width="3.6" height="2.6" fill="#e30000"/><rect x="429.4" y="391.4" width="3.6" height="2.6" fill="#b10000"/><rect x="409.8" y="391.4" width="3.6" height="2.6" fill="#3b0000"/><rect x="433.0" y="391.4" width="3.6" height="2.6" fill="#ffffc3"/><rect x="400.0" y="394.0" width="3.6" height="2.6" fill="#b20000"/><rect x="403.6" y="394.0" width="3.6" height="2.6" fill="#ff0800"/><rect x="407.0" y="394.0" width="3.6" height="2.6" fill="#2b0000"/><rect x="413.0" y="394.0" width="3.6" height="2.6" fill="#8a0000"/><rect x="429.4" y="394.0" width="3.6" height="2.6" fill="#330000"/><rect x="409.8" y="394.0" width="3.6" height="2.6" fill="#2e0000"/><rect x="433.0" y="394.0" width="3.6" height="2.6" fill="#ffff94"/><rect x="400.0" y="396.6" width="3.6" height="2.6" fill="#ef0000"/><rect x="403.6" y="396.6" width="3.6" height="2.6" fill="#220000"/><rect x="407.0" y="396.6" width="3.6" height="2.6" fill="#1b0000"/><rect x="413.0" y="396.6" width="3.6" height="2.6" fill="#640000"/><rect x="416.6" y="396.6" width="3.6" height="2.6" fill="#7c0000"/><rect x="429.4" y="396.6" width="3.6" height="2.6" fill="#ff0600"/><rect x="433.0" y="396.6" width="3.6" height="2.6" fill="#ffffc2"/><rect x="400.0" y="399.2" width="3.6" height="2.6" fill="#db0000"/><rect x="403.6" y="399.2" width="3.6" height="2.6" fill="#ffaa00"/><rect x="407.0" y="399.2" width="3.6" height="2.6" fill="#1b0000"/><rect x="413.0" y="399.2" width="3.6" height="2.6" fill="#b40000"/><rect x="416.6" y="399.2" width="3.6" height="2.6" fill="#bf0000"/><rect x="429.4" y="399.2" width="3.6" height="2.6" fill="#420000"/><rect x="433.0" y="399.2" width="3.6" height="2.6" fill="#ffff21"/><rect x="400.0" y="401.8" width="3.6" height="2.6" fill="#e50000"/><rect x="403.6" y="401.8" width="3.6" height="2.6" fill="#400000"/><rect x="407.0" y="401.8" width="3.6" height="2.6" fill="#2e0000"/><rect x="413.0" y="401.8" width="3.6" height="2.6" fill="#150000"/><rect x="429.4" y="401.8" width="3.6" height="2.6" fill="#ff1c00"/><rect x="433.0" y="401.8" width="3.6" height="2.6" fill="#ffff05"/><rect x="393.9" y="404.4" width="3.6" height="2.6" fill="#ff3700"/><rect x="397.5" y="404.4" width="3.6" height="2.6" fill="#ff5900"/><rect x="401.1" y="404.4" width="3.6" height="2.6" fill="#ff9400"/><rect x="413.0" y="404.4" width="3.6" height="2.6" fill="#7a0000"/><rect x="429.4" y="404.4" width="3.6" height="2.6" fill="#830000"/><rect x="409.8" y="404.4" width="3.6" height="2.6" fill="#2b0000"/><rect x="433.0" y="404.4" width="3.6" height="2.6" fill="#ffffae"/><rect x="436.6" y="404.4" width="3.6" height="2.6" fill="#ff1a00"/><rect x="392.9" y="407.0" width="3.6" height="2.6" fill="#2a0000"/><rect x="396.5" y="407.0" width="3.6" height="2.6" fill="#ff3000"/><rect x="400.1" y="407.0" width="3.6" height="2.6" fill="#ff3f00"/><rect x="413.0" y="407.0" width="3.6" height="2.6" fill="#960000"/><rect x="416.6" y="407.0" width="3.6" height="2.6" fill="#770000"/><rect x="429.4" y="407.0" width="3.6" height="2.6" fill="#2c0000"/><rect x="433.0" y="407.0" width="3.6" height="2.6" fill="#ffff23"/><rect x="436.6" y="407.0" width="3.6" height="2.6" fill="#ff3900"/><rect x="391.8" y="409.6" width="3.6" height="2.6" fill="#3c0000"/><rect x="395.4" y="409.6" width="3.6" height="2.6" fill="#f40000"/><rect x="399.0" y="409.6" width="3.6" height="2.6" fill="#ff1500"/><rect x="413.0" y="409.6" width="3.6" height="2.6" fill="#520000"/><rect x="416.6" y="409.6" width="3.6" height="2.6" fill="#1f0000"/><rect x="433.0" y="409.6" width="3.6" height="2.6" fill="#ffff67"/><rect x="390.8" y="412.2" width="3.6" height="2.6" fill="#3b0000"/><rect x="394.4" y="412.2" width="3.6" height="2.6" fill="#fa0000"/><rect x="398.0" y="412.2" width="3.6" height="2.6" fill="#fb0000"/><rect x="413.0" y="412.2" width="3.6" height="2.6" fill="#2f0000"/><rect x="429.4" y="412.2" width="3.6" height="2.6" fill="#e70000"/><rect x="433.0" y="412.2" width="3.6" height="2.6" fill="#fffa00"/><rect x="436.6" y="412.2" width="3.6" height="2.6" fill="#ff1c00"/><rect x="389.8" y="414.8" width="3.6" height="2.6" fill="#190000"/><rect x="393.4" y="414.8" width="3.6" height="2.6" fill="#ff6c00"/><rect x="397.0" y="414.8" width="3.6" height="2.6" fill="#ff6900"/><rect x="413.0" y="414.8" width="3.6" height="2.6" fill="#a30000"/><rect x="416.6" y="414.8" width="3.6" height="2.6" fill="#290000"/><rect x="409.8" y="414.8" width="3.6" height="2.6" fill="#320000"/><rect x="433.0" y="414.8" width="3.6" height="2.6" fill="#ffff23"/><rect x="388.8" y="417.4" width="3.6" height="2.6" fill="#310000"/><rect x="392.4" y="417.4" width="3.6" height="2.6" fill="#ff4c00"/><rect x="396.0" y="417.4" width="3.6" height="2.6" fill="#e60000"/><rect x="413.0" y="417.4" width="3.6" height="2.6" fill="#340000"/><rect x="429.4" y="417.4" width="3.6" height="2.6" fill="#2b0000"/><rect x="433.0" y="417.4" width="3.6" height="2.6" fill="#ffffb0"/><rect x="391.4" y="420.0" width="3.6" height="2.6" fill="#d10000"/><rect x="395.0" y="420.0" width="3.6" height="2.6" fill="#ff3000"/><rect x="413.0" y="420.0" width="3.6" height="2.6" fill="#1e0000"/><rect x="416.6" y="420.0" width="3.6" height="2.6" fill="#c70000"/><rect x="429.4" y="420.0" width="3.6" height="2.6" fill="#ff3200"/><rect x="433.0" y="420.0" width="3.6" height="2.6" fill="#ffffc4"/><rect x="386.8" y="422.6" width="3.6" height="2.6" fill="#ff6800"/><rect x="390.4" y="422.6" width="3.6" height="2.6" fill="#ffe700"/><rect x="394.0" y="422.6" width="3.6" height="2.6" fill="#ff7000"/><rect x="413.0" y="422.6" width="3.6" height="2.6" fill="#290000"/><rect x="416.6" y="422.6" width="3.6" height="2.6" fill="#c30000"/><rect x="429.4" y="422.6" width="3.6" height="2.6" fill="#ff2700"/><rect x="433.0" y="422.6" width="3.6" height="2.6" fill="#ffff22"/><rect x="436.6" y="422.6" width="3.6" height="2.6" fill="#f50000"/><rect x="385.8" y="425.2" width="3.6" height="2.6" fill="#430000"/><rect x="389.4" y="425.2" width="3.6" height="2.6" fill="#ff6000"/><rect x="393.0" y="425.2" width="3.6" height="2.6" fill="#ff1000"/><rect x="413.0" y="425.2" width="3.6" height="2.6" fill="#b30000"/><rect x="416.6" y="425.2" width="3.6" height="2.6" fill="#7c0000"/><rect x="409.8" y="425.2" width="3.6" height="2.6" fill="#3a0000"/><rect x="433.0" y="425.2" width="3.6" height="2.6" fill="#ffff9b"/><rect x="384.8" y="427.8" width="3.6" height="2.6" fill="#390000"/><rect x="392.0" y="427.8" width="3.6" height="2.6" fill="#ff8d00"/><rect x="413.0" y="427.8" width="3.6" height="2.6" fill="#220000"/><rect x="416.6" y="427.8" width="3.6" height="2.6" fill="#530000"/><rect x="429.4" y="427.8" width="3.6" height="2.6" fill="#330000"/><rect x="433.0" y="427.8" width="3.6" height="2.6" fill="#ffffc7"/><rect x="383.8" y="430.4" width="3.6" height="2.6" fill="#400000"/><rect x="387.4" y="430.4" width="3.6" height="2.6" fill="#ffa400"/><rect x="391.0" y="430.4" width="3.6" height="2.6" fill="#ed0000"/><rect x="413.0" y="430.4" width="3.6" height="2.6" fill="#d70000"/><rect x="416.6" y="430.4" width="3.6" height="2.6" fill="#1d0000"/><rect x="429.4" y="430.4" width="3.6" height="2.6" fill="#3d0000"/><rect x="433.0" y="430.4" width="3.6" height="2.6" fill="#ffffa3"/><rect x="382.8" y="433.0" width="3.6" height="2.6" fill="#ffbc00"/><rect x="386.4" y="433.0" width="3.6" height="2.6" fill="#ff5d00"/><rect x="390.0" y="433.0" width="3.6" height="2.6" fill="#ff0600"/><rect x="413.0" y="433.0" width="3.6" height="2.6" fill="#a50000"/><rect x="416.6" y="433.0" width="3.6" height="2.6" fill="#230000"/><rect x="429.4" y="433.0" width="3.6" height="2.6" fill="#3a0000"/><rect x="433.0" y="433.0" width="3.6" height="2.6" fill="#ffff23"/><rect x="390.7" y="435.6" width="3.6" height="2.6" fill="#6d0000"/><rect x="416.6" y="435.6" width="3.6" height="2.6" fill="#6d0000"/><rect x="429.4" y="435.6" width="3.6" height="2.6" fill="#300000"/><rect x="433.0" y="435.6" width="3.6" height="2.6" fill="#ffff34"/><rect x="389.0" y="438.2" width="3.6" height="2.6" fill="#ff5b00"/><rect x="392.6" y="438.2" width="3.6" height="2.6" fill="#b20000"/><rect x="413.0" y="438.2" width="3.6" height="2.6" fill="#280000"/><rect x="429.4" y="438.2" width="3.6" height="2.6" fill="#ce0000"/><rect x="409.8" y="438.2" width="3.6" height="2.6" fill="#210000"/><rect x="433.0" y="438.2" width="3.6" height="2.6" fill="#ffffbf"/><rect x="390.9" y="440.8" width="3.6" height="2.6" fill="#780000"/><rect x="394.5" y="440.8" width="3.6" height="2.6" fill="#c40000"/><rect x="413.0" y="440.8" width="3.6" height="2.6" fill="#260000"/><rect x="416.6" y="440.8" width="3.6" height="2.6" fill="#390000"/><rect x="429.4" y="440.8" width="3.6" height="2.6" fill="#ff0700"/><rect x="409.8" y="440.8" width="3.6" height="2.6" fill="#320000"/><rect x="433.0" y="440.8" width="3.6" height="2.6" fill="#ffff52"/><rect x="394.8" y="443.4" width="3.6" height="2.6" fill="#ff3200"/><rect x="398.4" y="443.4" width="3.6" height="2.6" fill="#360000"/><rect x="413.0" y="443.4" width="3.6" height="2.6" fill="#290000"/><rect x="416.6" y="443.4" width="3.6" height="2.6" fill="#b60000"/><rect x="429.4" y="443.4" width="3.6" height="2.6" fill="#c40000"/><rect x="433.0" y="443.4" width="3.6" height="2.6" fill="#ffff12"/><rect x="395.6" y="446.0" width="3.6" height="2.6" fill="#c00000"/><rect x="399.2" y="446.0" width="3.6" height="2.6" fill="#ff0b00"/><rect x="429.4" y="446.0" width="3.6" height="2.6" fill="#ff1700"/><rect x="409.8" y="446.0" width="3.6" height="2.6" fill="#380000"/><rect x="433.0" y="446.0" width="3.6" height="2.6" fill="#ffff4b"/><rect x="396.4" y="448.6" width="3.6" height="2.6" fill="#c40000"/><rect x="400.0" y="448.6" width="3.6" height="2.6" fill="#ee0000"/><rect x="413.0" y="448.6" width="3.6" height="2.6" fill="#360000"/><rect x="416.6" y="448.6" width="3.6" height="2.6" fill="#f10000"/><rect x="409.8" y="448.6" width="3.6" height="2.6" fill="#270000"/><rect x="433.0" y="448.6" width="3.6" height="2.6" fill="#fffb00"/><rect x="400.9" y="451.2" width="3.6" height="2.6" fill="#400000"/><rect x="413.0" y="451.2" width="3.6" height="2.6" fill="#1c0000"/><rect x="429.4" y="451.2" width="3.6" height="2.6" fill="#bd0000"/><rect x="432.0" y="451.2" width="3.6" height="2.6" fill="#ff9c00"/><rect x="398.1" y="453.8" width="3.6" height="2.6" fill="#ff1d00"/><rect x="401.7" y="453.8" width="3.6" height="2.6" fill="#310000"/><rect x="413.0" y="453.8" width="3.6" height="2.6" fill="#260000"/><rect x="416.6" y="453.8" width="3.6" height="2.6" fill="#370000"/><rect x="429.4" y="453.8" width="3.6" height="2.6" fill="#230000"/><rect x="432.0" y="453.8" width="3.6" height="2.6" fill="#ffb200"/><rect x="399.0" y="456.4" width="3.6" height="2.6" fill="#360000"/><rect x="429.4" y="456.4" width="3.6" height="2.6" fill="#e00000"/><rect x="399.0" y="459.0" width="3.6" height="2.6" fill="#770000"/><rect x="402.6" y="459.0" width="3.6" height="2.6" fill="#740000"/><rect x="406.2" y="459.0" width="3.6" height="2.6" fill="#380000"/><rect x="413.0" y="459.0" width="3.6" height="2.6" fill="#2b0000"/><rect x="416.6" y="459.0" width="3.6" height="2.6" fill="#510000"/><rect x="429.4" y="459.0" width="3.6" height="2.6" fill="#ff2800"/><rect x="432.0" y="459.0" width="3.6" height="2.6" fill="#ff5100"/><rect x="399.0" y="461.6" width="3.6" height="2.6" fill="#ff0b00"/><rect x="413.0" y="461.6" width="3.6" height="2.6" fill="#ec0000"/><rect x="429.4" y="461.6" width="3.6" height="2.6" fill="#1b0000"/><rect x="409.8" y="461.6" width="3.6" height="2.6" fill="#2d0000"/><rect x="432.0" y="461.6" width="3.6" height="2.6" fill="#ffb700"/><rect x="399.0" y="464.2" width="3.6" height="2.6" fill="#320000"/><rect x="406.2" y="464.2" width="3.6" height="2.6" fill="#160000"/><rect x="416.6" y="464.2" width="3.6" height="2.6" fill="#320000"/><rect x="429.4" y="464.2" width="3.6" height="2.6" fill="#340000"/><rect x="432.0" y="464.2" width="3.6" height="2.6" fill="#ffe700"/><rect x="402.6" y="466.8" width="3.6" height="2.6" fill="#ff0500"/><rect x="406.2" y="466.8" width="3.6" height="2.6" fill="#ff0700"/><rect x="413.0" y="466.8" width="3.6" height="2.6" fill="#200000"/><rect x="416.6" y="466.8" width="3.6" height="2.6" fill="#200000"/><rect x="429.4" y="466.8" width="3.6" height="2.6" fill="#230000"/><rect x="409.8" y="466.8" width="3.6" height="2.6" fill="#240000"/><rect x="432.0" y="466.8" width="3.6" height="2.6" fill="#ff9500"/><rect x="399.0" y="469.4" width="3.6" height="2.6" fill="#ffbe00"/><rect x="402.6" y="469.4" width="3.6" height="2.6" fill="#700000"/><rect x="406.2" y="469.4" width="3.6" height="2.6" fill="#400000"/><rect x="413.0" y="469.4" width="3.6" height="2.6" fill="#350000"/><rect x="429.4" y="469.4" width="3.6" height="2.6" fill="#eb0000"/><rect x="432.0" y="469.4" width="3.6" height="2.6" fill="#ff7800"/><rect x="399.0" y="472.0" width="3.6" height="2.6" fill="#230000"/><rect x="402.6" y="472.0" width="3.6" height="2.6" fill="#d40000"/><rect x="406.2" y="472.0" width="3.6" height="2.6" fill="#fa0000"/><rect x="413.0" y="472.0" width="3.6" height="2.6" fill="#c20000"/><rect x="429.4" y="472.0" width="3.6" height="2.6" fill="#890000"/><rect x="409.8" y="472.0" width="3.6" height="2.6" fill="#1c0000"/><rect x="432.0" y="472.0" width="3.6" height="2.6" fill="#ffdd00"/><rect x="402.6" y="474.6" width="3.6" height="2.6" fill="#260000"/><rect x="406.2" y="474.6" width="3.6" height="2.6" fill="#3c0000"/><rect x="432.0" y="474.6" width="3.6" height="2.6" fill="#ff9100"/><rect x="399.0" y="477.2" width="3.6" height="2.6" fill="#d00000"/><rect x="406.2" y="477.2" width="3.6" height="2.6" fill="#160000"/><rect x="413.0" y="477.2" width="3.6" height="2.6" fill="#380000"/><rect x="416.6" y="477.2" width="3.6" height="2.6" fill="#d80000"/><rect x="429.4" y="477.2" width="3.6" height="2.6" fill="#ac0000"/><rect x="409.8" y="477.2" width="3.6" height="2.6" fill="#380000"/><rect x="432.0" y="477.2" width="3.6" height="2.6" fill="#ffbf00"/><rect x="399.0" y="479.8" width="3.6" height="2.6" fill="#240000"/><rect x="402.6" y="479.8" width="3.6" height="2.6" fill="#2c0000"/><rect x="413.0" y="479.8" width="3.6" height="2.6" fill="#950000"/><rect x="429.4" y="479.8" width="3.6" height="2.6" fill="#1c0000"/><rect x="432.0" y="479.8" width="3.6" height="2.6" fill="#530000"/><rect x="402.6" y="482.4" width="3.6" height="2.6" fill="#2c0000"/><rect x="406.2" y="482.4" width="3.6" height="2.6" fill="#1d0000"/><rect x="413.0" y="482.4" width="3.6" height="2.6" fill="#600000"/><rect x="416.6" y="482.4" width="3.6" height="2.6" fill="#2f0000"/><rect x="429.4" y="482.4" width="3.6" height="2.6" fill="#1d0000"/><rect x="409.8" y="482.4" width="3.6" height="2.6" fill="#230000"/><rect x="399.0" y="485.0" width="3.6" height="2.6" fill="#1b0000"/><rect x="402.6" y="485.0" width="3.6" height="2.6" fill="#ff1100"/><rect x="406.2" y="485.0" width="3.6" height="2.6" fill="#ffdc00"/><rect x="429.4" y="485.0" width="3.6" height="2.6" fill="#340000"/><rect x="409.8" y="485.0" width="3.6" height="2.6" fill="#1c0000"/><rect x="402.6" y="487.6" width="3.6" height="2.6" fill="#280000"/><rect x="416.6" y="487.6" width="3.6" height="2.6" fill="#c40000"/><rect x="429.4" y="487.6" width="3.6" height="2.6" fill="#3b0000"/><rect x="399.0" y="490.2" width="3.6" height="2.6" fill="#7d0000"/><rect x="413.0" y="490.2" width="3.6" height="2.6" fill="#1b0000"/><rect x="416.6" y="490.2" width="3.6" height="2.6" fill="#d60000"/><rect x="399.0" y="492.8" width="3.6" height="2.6" fill="#7f0000"/><rect x="402.6" y="492.8" width="3.6" height="2.6" fill="#2a0000"/><rect x="413.0" y="492.8" width="3.6" height="2.6" fill="#3a0000"/><rect x="416.6" y="492.8" width="3.6" height="2.6" fill="#9e0000"/><rect x="429.4" y="492.8" width="3.6" height="2.6" fill="#2c0000"/><rect x="436.6" y="492.8" width="3.6" height="2.6" fill="#c60000"/><rect x="399.0" y="495.4" width="3.6" height="2.6" fill="#2f0000"/><rect x="402.6" y="495.4" width="3.6" height="2.6" fill="#790000"/><rect x="406.2" y="495.4" width="3.6" height="2.6" fill="#400000"/><rect x="429.4" y="495.4" width="3.6" height="2.6" fill="#190000"/><rect x="402.6" y="498.0" width="3.6" height="2.6" fill="#fe0000"/><rect x="406.2" y="498.0" width="3.6" height="2.6" fill="#330000"/><rect x="416.6" y="498.0" width="3.6" height="2.6" fill="#1b0000"/><rect x="429.4" y="498.0" width="3.6" height="2.6" fill="#230000"/><rect x="409.8" y="498.0" width="3.6" height="2.6" fill="#1b0000"/><rect x="402.6" y="500.6" width="3.6" height="2.6" fill="#ff1600"/><rect x="406.2" y="500.6" width="3.6" height="2.6" fill="#2d0000"/><rect x="413.0" y="500.6" width="3.6" height="2.6" fill="#380000"/><rect x="416.6" y="500.6" width="3.6" height="2.6" fill="#150000"/><rect x="399.0" y="503.2" width="3.6" height="2.6" fill="#3a0000"/><rect x="402.6" y="503.2" width="3.6" height="2.6" fill="#ac0000"/><rect x="406.2" y="503.2" width="3.6" height="2.6" fill="#1b0000"/><rect x="416.6" y="503.2" width="3.6" height="2.6" fill="#bd0000"/><rect x="429.4" y="503.2" width="3.6" height="2.6" fill="#710000"/><rect x="409.8" y="503.2" width="3.6" height="2.6" fill="#3c0000"/><rect x="399.0" y="505.8" width="3.6" height="2.6" fill="#420000"/><rect x="402.6" y="505.8" width="3.6" height="2.6" fill="#6b0000"/><rect x="413.0" y="505.8" width="3.6" height="2.6" fill="#290000"/><rect x="416.6" y="505.8" width="3.6" height="2.6" fill="#290000"/><rect x="429.4" y="505.8" width="3.6" height="2.6" fill="#860000"/><rect x="409.8" y="505.8" width="3.6" height="2.6" fill="#1b0000"/><rect x="399.0" y="508.4" width="3.6" height="2.6" fill="#ffa100"/><rect x="402.6" y="508.4" width="3.6" height="2.6" fill="#b60000"/><rect x="402.6" y="511.0" width="3.6" height="2.6" fill="#ffd000"/><rect x="429.4" y="511.0" width="3.6" height="2.6" fill="#480000"/><rect x="409.8" y="511.0" width="3.6" height="2.6" fill="#200000"/><rect x="399.0" y="513.6" width="3.6" height="2.6" fill="#370000"/><rect x="402.6" y="513.6" width="3.6" height="2.6" fill="#a50000"/><rect x="406.2" y="513.6" width="3.6" height="2.6" fill="#320000"/><rect x="413.0" y="513.6" width="3.6" height="2.6" fill="#7d0000"/><rect x="429.4" y="513.6" width="3.6" height="2.6" fill="#2c0000"/><rect x="409.8" y="513.6" width="3.6" height="2.6" fill="#1a0000"/><rect x="405.6" y="422.5" width="3.6" height="2.6" fill="#5b0000"/><rect x="403.4" y="428.6" width="3.6" height="2.6" fill="#920000"/><rect x="408.8" y="430.6" width="3.6" height="2.6" fill="#980000"/><rect x="411.0" y="423.1" width="3.6" height="2.6" fill="#960000"/><rect x="415.8" y="435.9" width="3.6" height="2.6" fill="#5a0000"/><rect x="414.1" y="424.7" width="3.6" height="2.6" fill="#600000"/><rect x="408.3" y="431.1" width="3.6" height="2.6" fill="#690000"/><rect x="406.6" y="425.9" width="3.6" height="2.6" fill="#470000"/><rect x="410.6" y="430.7" width="3.6" height="2.6" fill="#700000"/><rect x="415.6" y="432.6" width="3.6" height="2.6" fill="#660000"/><rect x="410.7" y="428.6" width="3.6" height="2.6" fill="#570000"/><rect x="407.9" y="431.0" width="3.6" height="2.6" fill="#680000"/><rect x="405.1" y="426.5" width="3.6" height="2.6" fill="#590000"/><rect x="407.1" y="422.0" width="3.6" height="2.6" fill="#7a0000"/><rect x="408.4" y="425.2" width="3.6" height="2.6" fill="#880000"/><rect x="414.6" y="426.8" width="3.6" height="2.6" fill="#630000"/><rect x="412.6" y="432.5" width="3.6" height="2.6" fill="#600000"/><rect x="408.2" y="422.7" width="3.6" height="2.6" fill="#930000"/><rect x="409.8" y="434.1" width="3.6" height="2.6" fill="#710000"/><rect x="407.2" y="434.5" width="3.6" height="2.6" fill="#440000"/><rect x="408.7" y="429.2" width="3.6" height="2.6" fill="#6d0000"/><rect x="412.5" y="432.6" width="3.6" height="2.6" fill="#8e0000"/><rect x="407.3" y="428.7" width="3.6" height="2.6" fill="#550000"/><rect x="403.8" y="421.8" width="3.6" height="2.6" fill="#940000"/><rect x="410.0" y="428.9" width="3.6" height="2.6" fill="#890000"/><rect x="411.9" y="430.6" width="3.6" height="2.6" fill="#750000"/><rect x="413.0" y="423.4" width="3.6" height="2.6" fill="#850000"/><rect x="407.3" y="422.8" width="3.6" height="2.6" fill="#8a0000"/><rect x="414.5" y="423.0" width="3.6" height="2.6" fill="#4d0000"/><rect x="409.9" y="427.9" width="3.6" height="2.6" fill="#4b0000"/><rect x="378.7" y="425.4" width="3.6" height="2.6" fill="#420000"/><rect x="382.3" y="419.2" width="3.6" height="2.6" fill="#6c0000"/><rect x="382.9" y="428.6" width="3.6" height="2.6" fill="#800000"/><rect x="386.4" y="428.9" width="3.6" height="2.6" fill="#650000"/><rect x="383.7" y="425.6" width="3.6" height="2.6" fill="#700000"/><rect x="382.8" y="426.3" width="3.6" height="2.6" fill="#400000"/><rect x="384.4" y="420.8" width="3.6" height="2.6" fill="#750000"/><rect x="386.3" y="424.9" width="3.6" height="2.6" fill="#700000"/><rect x="376.2" y="430.2" width="3.6" height="2.6" fill="#4e0000"/><rect x="377.3" y="423.8" width="3.6" height="2.6" fill="#440000"/><rect x="379.6" y="421.0" width="3.6" height="2.6" fill="#810000"/><rect x="385.6" y="424.7" width="3.6" height="2.6" fill="#690000"/><rect x="378.6" y="425.7" width="3.6" height="2.6" fill="#7a0000"/><rect x="377.9" y="424.2" width="3.6" height="2.6" fill="#3d0000"/><rect x="388.8" y="415.8" width="3.6" height="2.6" fill="#210000"/><rect x="426.6" y="435.4" width="3.6" height="2.6" fill="#210000"/><rect x="414.7" y="444.4" width="3.6" height="2.6" fill="#2f0000"/><rect x="399.4" y="433.7" width="3.6" height="2.6" fill="#4f0000"/><rect x="412.0" y="421.6" width="3.6" height="2.6" fill="#220000"/><rect x="396.2" y="413.5" width="3.6" height="2.6" fill="#4e0000"/><rect x="420.6" y="405.2" width="3.6" height="2.6" fill="#1c0000"/><rect x="388.4" y="418.9" width="3.6" height="2.6" fill="#3c0000"/><rect x="424.8" y="421.6" width="3.6" height="2.6" fill="#230000"/><rect x="426.5" y="428.4" width="3.6" height="2.6" fill="#1d0000"/><rect x="392.0" y="444.7" width="3.6" height="2.6" fill="#4b0000"/><rect x="416.9" y="406.8" width="3.6" height="2.6" fill="#460000"/><rect x="397.8" y="439.8" width="3.6" height="2.6" fill="#1d0000"/><rect x="399.7" y="425.3" width="3.6" height="2.6" fill="#440000"/><rect x="405.4" y="423.7" width="3.6" height="2.6" fill="#4a0000"/><rect x="396.4" y="418.8" width="3.6" height="2.6" fill="#3d0000"/><rect x="405.8" y="422.9" width="3.6" height="2.6" fill="#270000"/><rect x="403.5" y="409.6" width="3.6" height="2.6" fill="#370000"/><rect x="416.2" y="413.3" width="3.6" height="2.6" fill="#240000"/><rect x="415.1" y="441.5" width="3.6" height="2.6" fill="#230000"/><rect x="424.8" y="441.6" width="3.6" height="2.6" fill="#450000"/><rect x="421.3" y="417.5" width="3.6" height="2.6" fill="#400000"/><rect x="397.3" y="405.2" width="3.6" height="2.6" fill="#4b0000"/><rect x="401.9" y="441.7" width="3.6" height="2.6" fill="#330000"/><rect x="388.6" y="437.9" width="3.6" height="2.6" fill="#430000"/><rect x="433.0" y="337.0" width="3.6" height="28.0" fill="#fffbe8"/></g></g>
<ellipse cx="407.8" cy="425.3" rx="71.2" ry="21.6" fill="#fff" fill-opacity="0.085" stroke="#ececec" stroke-width="1.5"/>
<g fill="#f4f4f4" font-size="15.3">
<text x="63.6" y="396.3">SL 0</text>
<text x="154.6" y="376.3">Substrate</text>
<text x="362" y="343.5">SL 0</text>
<text x="343.2" y="361.8">doublet</text>
<text x="437.2" y="341.2">Substrate</text>
<text x="301.6" y="467.5">Pumped Region</text>
</g>

<g class="k" fill="#111" font-size="19.5">
<text x="121" y="552.8">(b)</text>
<text x="403" y="552.8">(c)</text>
</g>
</svg>
</body></html>
